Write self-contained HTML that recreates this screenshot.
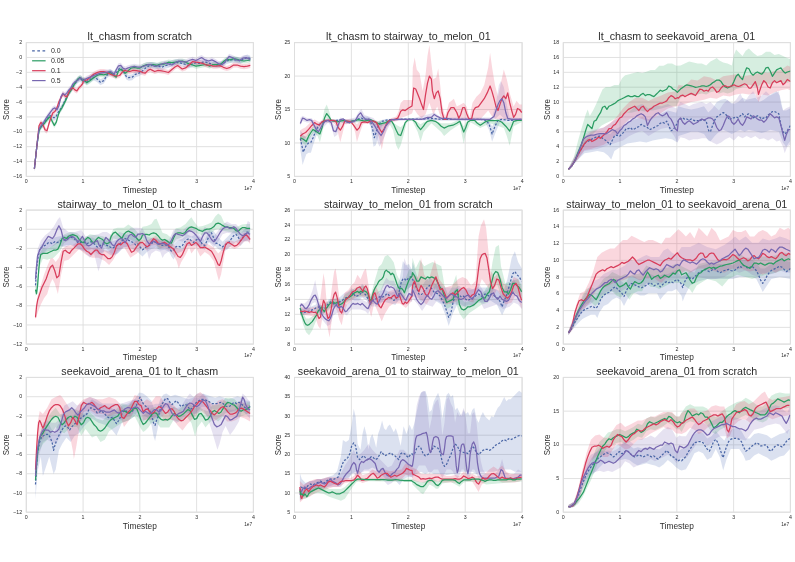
<!DOCTYPE html><html><head><meta charset="utf-8"><style>html,body{margin:0;padding:0;background:#fff;}svg{display:block;filter:blur(0.35px)}text{font-family:"Liberation Sans",sans-serif;fill:#2c2c2c}</style></head><body>
<svg width="795" height="562" viewBox="0 0 795 562">
<rect width="795" height="562" fill="#fff"/>
<line x1="26.3" y1="176.40" x2="253.4" y2="176.40" stroke="#dedede" stroke-width="0.9"/>
<text transform="translate(22.1,178.00) scale(0.88,1)" font-size="6.0" text-anchor="end">−16</text>
<line x1="26.3" y1="161.53" x2="253.4" y2="161.53" stroke="#dedede" stroke-width="0.9"/>
<text transform="translate(22.1,163.13) scale(0.88,1)" font-size="6.0" text-anchor="end">−14</text>
<line x1="26.3" y1="146.67" x2="253.4" y2="146.67" stroke="#dedede" stroke-width="0.9"/>
<text transform="translate(22.1,148.27) scale(0.88,1)" font-size="6.0" text-anchor="end">−12</text>
<line x1="26.3" y1="131.80" x2="253.4" y2="131.80" stroke="#dedede" stroke-width="0.9"/>
<text transform="translate(22.1,133.40) scale(0.88,1)" font-size="6.0" text-anchor="end">−10</text>
<line x1="26.3" y1="116.93" x2="253.4" y2="116.93" stroke="#dedede" stroke-width="0.9"/>
<text transform="translate(22.1,118.53) scale(0.88,1)" font-size="6.0" text-anchor="end">−8</text>
<line x1="26.3" y1="102.07" x2="253.4" y2="102.07" stroke="#dedede" stroke-width="0.9"/>
<text transform="translate(22.1,103.67) scale(0.88,1)" font-size="6.0" text-anchor="end">−6</text>
<line x1="26.3" y1="87.20" x2="253.4" y2="87.20" stroke="#dedede" stroke-width="0.9"/>
<text transform="translate(22.1,88.80) scale(0.88,1)" font-size="6.0" text-anchor="end">−4</text>
<line x1="26.3" y1="72.33" x2="253.4" y2="72.33" stroke="#dedede" stroke-width="0.9"/>
<text transform="translate(22.1,73.93) scale(0.88,1)" font-size="6.0" text-anchor="end">−2</text>
<line x1="26.3" y1="57.47" x2="253.4" y2="57.47" stroke="#dedede" stroke-width="0.9"/>
<text transform="translate(22.1,59.07) scale(0.88,1)" font-size="6.0" text-anchor="end">0</text>
<line x1="26.3" y1="42.60" x2="253.4" y2="42.60" stroke="#dedede" stroke-width="0.9"/>
<text transform="translate(22.1,44.20) scale(0.88,1)" font-size="6.0" text-anchor="end">2</text>
<line x1="26.30" y1="42.6" x2="26.30" y2="176.4" stroke="#dedede" stroke-width="0.9"/>
<text transform="translate(26.30,183.4) scale(0.88,1)" font-size="6.0" text-anchor="middle">0</text>
<line x1="83.08" y1="42.6" x2="83.08" y2="176.4" stroke="#dedede" stroke-width="0.9"/>
<text transform="translate(83.08,183.4) scale(0.88,1)" font-size="6.0" text-anchor="middle">1</text>
<line x1="139.85" y1="42.6" x2="139.85" y2="176.4" stroke="#dedede" stroke-width="0.9"/>
<text transform="translate(139.85,183.4) scale(0.88,1)" font-size="6.0" text-anchor="middle">2</text>
<line x1="196.62" y1="42.6" x2="196.62" y2="176.4" stroke="#dedede" stroke-width="0.9"/>
<text transform="translate(196.62,183.4) scale(0.88,1)" font-size="6.0" text-anchor="middle">3</text>
<line x1="253.40" y1="42.6" x2="253.40" y2="176.4" stroke="#dedede" stroke-width="0.9"/>
<text transform="translate(253.40,183.4) scale(0.88,1)" font-size="6.0" text-anchor="middle">4</text>
<rect x="26.3" y="42.6" width="227.1" height="133.8" fill="none" stroke="#dedede" stroke-width="1"/>
<clipPath id="clip00"><rect x="26.3" y="42.6" width="227.1" height="133.8"/></clipPath>
<g clip-path="url(#clip00)">
<polygon points="34.4,165.7 37.0,141.8 39.0,126.8 41.0,123.8 44.0,119.8 47.0,115.8 49.9,112.4 51.9,113.8 53.9,114.8 55.9,113.8 57.9,109.8 59.9,106.9 61.9,103.9 63.9,99.9 65.9,95.9 67.9,91.3 69.9,88.5 71.9,85.3 73.9,81.9 75.9,79.3 77.9,76.9 79.9,75.9 81.9,76.9 82.8,78.5 83.4,77.6 86.8,78.7 90.2,76.4 93.6,74.2 97.0,75.9 100.4,79.3 103.8,77.6 107.2,71.9 110.6,69.6 114.0,71.3 117.4,68.5 119.6,65.1 121.9,66.8 124.2,69.6 126.4,73.6 128.7,74.7 132.1,74.2 135.5,71.3 138.9,70.2 142.3,67.9 145.7,65.1 149.1,62.8 152.5,62.3 155.8,62.8 159.2,63.4 161.5,64.5 164.9,62.8 168.4,62.0 171.9,60.3 175.3,59.2 178.7,59.7 182.2,60.3 185.6,61.5 189.0,62.6 192.5,60.9 195.9,59.7 199.3,60.3 202.8,59.2 206.2,59.2 209.6,60.3 213.1,61.5 216.5,62.0 219.9,61.5 223.4,60.3 226.8,58.0 230.2,56.9 233.7,56.9 237.1,56.9 240.5,58.0 244.0,55.7 247.4,54.6 250.3,55.7 250.3,61.7 247.4,60.6 244.0,61.7 240.5,64.0 237.1,62.9 233.7,62.9 230.2,62.9 226.8,64.0 223.4,66.3 219.9,67.5 216.5,68.0 213.1,67.5 209.6,66.3 206.2,65.2 202.8,65.2 199.3,66.3 195.9,65.7 192.5,66.9 189.0,68.6 185.6,67.5 182.2,66.3 178.7,65.7 175.3,65.2 171.9,66.3 168.4,68.0 164.9,68.8 161.5,70.5 159.2,69.4 155.8,68.8 152.5,68.3 149.1,68.8 145.7,71.1 142.3,73.9 138.9,76.2 135.5,77.3 132.1,80.2 128.7,80.7 126.4,79.6 124.2,75.6 121.9,72.8 119.6,71.1 117.4,74.5 114.0,77.3 110.6,75.6 107.2,77.9 103.8,83.6 100.4,85.3 97.0,81.9 93.6,80.2 90.2,82.4 86.8,84.7 83.4,83.6 82.8,84.5 81.9,82.9 79.9,81.9 77.9,82.9 75.9,85.3 73.9,87.9 71.9,91.3 69.9,94.5 67.9,97.3 65.9,101.9 63.9,105.9 61.9,109.9 59.9,112.9 57.9,115.8 55.9,119.8 53.9,120.8 51.9,119.8 49.9,118.4 47.0,121.8 44.0,125.8 41.0,129.8 39.0,132.8 37.0,147.8 34.4,171.7" fill="#4a68b4" fill-opacity="0.2"/>
<polygon points="34.4,166.1 37.0,142.2 39.0,128.2 41.0,124.2 44.0,121.2 47.0,117.2 49.9,114.2 51.9,118.2 54.3,122.8 56.3,119.6 58.3,112.2 59.9,108.3 61.9,105.3 63.9,101.3 65.9,97.3 67.9,92.3 69.9,89.3 71.9,86.3 73.9,82.3 75.9,79.3 77.9,76.3 79.9,74.9 81.9,76.3 82.8,78.3 83.4,76.8 86.8,80.2 90.2,78.0 93.6,75.1 97.0,72.9 100.4,71.7 103.8,72.3 107.2,71.2 109.4,69.5 111.7,70.6 114.0,72.9 116.2,74.6 118.5,68.3 120.8,66.6 123.0,68.3 125.3,70.6 127.5,68.9 130.9,65.5 134.3,64.9 137.7,65.5 140.0,65.5 143.4,63.2 146.8,62.1 150.2,62.1 153.6,62.1 157.0,62.7 160.4,61.6 163.8,61.6 168.4,59.6 171.9,60.1 175.3,59.6 178.7,59.0 182.2,58.4 185.6,59.6 189.0,61.3 192.5,62.4 195.9,63.6 199.3,63.0 202.8,62.4 206.2,61.9 209.6,63.6 213.1,61.9 216.5,61.9 219.9,62.4 223.4,59.0 226.8,56.7 230.2,57.3 233.7,56.1 237.1,56.7 240.5,57.9 244.0,58.4 247.4,57.9 250.3,57.3 250.3,62.5 247.4,63.1 244.0,63.6 240.5,63.1 237.1,61.9 233.7,61.3 230.2,62.5 226.8,61.9 223.4,64.2 219.9,67.6 216.5,67.1 213.1,67.1 209.6,68.8 206.2,67.1 202.8,67.6 199.3,68.2 195.9,68.8 192.5,67.6 189.0,66.5 185.6,64.8 182.2,63.6 178.7,64.2 175.3,64.8 171.9,65.3 168.4,64.8 163.8,66.8 160.4,66.8 157.0,67.9 153.6,67.3 150.2,67.3 146.8,67.3 143.4,68.4 140.0,70.7 137.7,70.7 134.3,70.1 130.9,70.7 127.5,74.1 125.3,75.8 123.0,73.5 120.8,71.8 118.5,73.5 116.2,79.8 114.0,78.1 111.7,75.8 109.4,74.7 107.2,76.4 103.8,77.5 100.4,76.9 97.0,78.1 93.6,80.3 90.2,83.2 86.8,85.4 83.4,82.0 82.8,83.5 81.9,81.5 79.9,80.1 77.9,81.5 75.9,84.5 73.9,87.5 71.9,91.5 69.9,94.5 67.9,97.5 65.9,102.5 63.9,106.5 61.9,110.5 59.9,113.5 58.3,117.4 56.3,124.8 54.3,128.0 51.9,123.4 49.9,119.4 47.0,122.4 44.0,126.4 41.0,129.4 39.0,133.4 37.0,147.4 34.4,171.3" fill="#34aa66" fill-opacity="0.2"/>
<polygon points="34.4,166.1 37.0,142.2 39.0,123.2 41.0,119.8 43.0,122.2 45.0,127.2 47.0,128.2 48.9,121.2 50.9,115.2 52.9,110.2 54.9,108.9 56.9,105.3 58.9,99.3 60.9,95.3 62.9,91.3 64.9,93.3 66.9,94.3 68.9,89.3 70.9,86.3 72.9,85.3 74.9,87.3 76.9,88.3 78.9,85.3 80.9,83.3 82.8,80.9 83.4,78.0 86.8,77.4 90.2,74.6 93.6,71.7 97.0,70.0 100.4,68.9 103.8,68.9 107.2,70.0 110.6,71.7 114.0,72.9 117.4,73.4 119.6,72.9 121.9,70.0 124.2,67.8 126.4,68.3 129.8,68.9 133.2,67.8 136.6,68.0 140.0,68.7 142.8,70.0 145.1,70.6 147.9,67.8 150.2,66.6 152.5,67.8 154.7,68.9 158.1,67.8 161.5,68.3 164.9,68.9 168.4,69.9 171.9,67.0 175.3,64.1 177.6,63.0 179.9,64.7 182.2,66.4 185.6,65.3 189.0,62.4 192.5,59.0 195.9,59.6 199.3,60.1 202.8,60.7 206.2,62.4 209.6,62.4 213.1,63.6 216.5,63.6 219.9,63.0 223.4,64.7 226.8,65.9 230.2,64.7 233.7,62.4 237.1,62.4 240.5,63.6 244.0,64.1 247.4,63.6 250.3,62.8 250.3,68.0 247.4,68.8 244.0,69.3 240.5,68.8 237.1,67.6 233.7,67.6 230.2,69.9 226.8,71.1 223.4,69.9 219.9,68.2 216.5,68.8 213.1,68.8 209.6,67.6 206.2,67.6 202.8,65.9 199.3,65.3 195.9,64.8 192.5,64.2 189.0,67.6 185.6,70.5 182.2,71.6 179.9,69.9 177.6,68.2 175.3,69.3 171.9,72.2 168.4,75.1 164.9,74.1 161.5,73.5 158.1,73.0 154.7,74.1 152.5,73.0 150.2,71.8 147.9,73.0 145.1,75.8 142.8,75.2 140.0,73.9 136.6,73.2 133.2,73.0 129.8,74.1 126.4,73.5 124.2,73.0 121.9,75.2 119.6,78.1 117.4,78.6 114.0,78.1 110.6,76.9 107.2,75.2 103.8,74.1 100.4,74.1 97.0,75.2 93.6,76.9 90.2,79.8 86.8,82.6 83.4,83.2 82.8,86.1 80.9,88.5 78.9,90.5 76.9,93.5 74.9,92.5 72.9,90.5 70.9,91.5 68.9,94.5 66.9,99.5 64.9,98.5 62.9,96.5 60.9,100.5 58.9,104.5 56.9,110.5 54.9,114.1 52.9,115.4 50.9,120.4 48.9,126.4 47.0,133.4 45.0,132.4 43.0,127.4 41.0,125.0 39.0,128.4 37.0,147.4 34.4,171.3" fill="#e6385c" fill-opacity="0.2"/>
<polygon points="34.4,166.1 37.0,142.2 39.0,126.2 41.0,123.2 44.0,119.2 47.0,114.2 49.9,110.2 52.9,106.3 54.9,105.3 56.9,107.3 58.9,103.3 60.9,94.3 62.9,90.9 64.9,92.3 66.9,90.3 68.9,87.3 70.9,85.3 72.9,81.3 74.9,79.3 76.9,78.3 78.9,76.3 80.9,75.3 82.8,77.3 83.4,78.0 86.8,75.7 90.2,74.6 93.6,72.9 97.0,71.7 100.4,70.6 103.8,70.0 107.2,69.5 110.6,68.9 114.0,71.7 116.2,67.2 118.5,63.2 120.8,62.7 123.0,65.5 125.3,66.6 127.5,65.5 130.9,64.4 134.3,63.8 137.7,64.4 141.1,64.4 144.5,63.2 147.9,62.1 151.3,62.1 154.7,63.8 158.1,63.2 161.5,61.6 164.9,60.4 168.4,61.3 171.9,62.4 175.3,60.1 178.7,58.4 182.2,59.0 185.6,59.6 189.0,57.9 192.5,56.7 195.9,57.9 199.3,56.1 201.6,55.0 205.1,57.3 208.5,58.4 211.9,57.3 215.4,59.0 218.8,61.3 222.2,61.9 225.7,58.4 229.1,53.8 232.5,55.0 236.0,57.3 239.4,57.9 242.8,55.6 246.3,55.0 250.3,56.7 250.3,61.9 246.3,60.2 242.8,60.8 239.4,63.1 236.0,62.5 232.5,60.2 229.1,59.0 225.7,63.6 222.2,67.1 218.8,66.5 215.4,64.2 211.9,62.5 208.5,63.6 205.1,62.5 201.6,60.2 199.3,61.3 195.9,63.1 192.5,61.9 189.0,63.1 185.6,64.8 182.2,64.2 178.7,63.6 175.3,65.3 171.9,67.6 168.4,66.5 164.9,65.6 161.5,66.8 158.1,68.4 154.7,69.0 151.3,67.3 147.9,67.3 144.5,68.4 141.1,69.6 137.7,69.6 134.3,69.0 130.9,69.6 127.5,70.7 125.3,71.8 123.0,70.7 120.8,67.9 118.5,68.4 116.2,72.4 114.0,76.9 110.6,74.1 107.2,74.7 103.8,75.2 100.4,75.8 97.0,76.9 93.6,78.1 90.2,79.8 86.8,80.9 83.4,83.2 82.8,82.5 80.9,80.5 78.9,81.5 76.9,83.5 74.9,84.5 72.9,86.5 70.9,90.5 68.9,92.5 66.9,95.5 64.9,97.5 62.9,96.1 60.9,99.5 58.9,108.5 56.9,112.5 54.9,110.5 52.9,111.5 49.9,115.4 47.0,119.4 44.0,124.4 41.0,128.4 39.0,131.4 37.0,147.4 34.4,171.3" fill="#8070b8" fill-opacity="0.2"/>
<polyline points="34.4,168.7 37.0,144.8 39.0,129.8 41.0,126.8 44.0,122.8 47.0,118.8 49.9,115.4 51.9,116.8 53.9,117.8 55.9,116.8 57.9,112.8 59.9,109.9 61.9,106.9 63.9,102.9 65.9,98.9 67.9,94.3 69.9,91.5 71.9,88.3 73.9,84.9 75.9,82.3 77.9,79.9 79.9,78.9 81.9,79.9 82.8,81.5 83.4,80.6 86.8,81.7 90.2,79.4 93.6,77.2 97.0,78.9 100.4,82.3 103.8,80.6 107.2,74.9 110.6,72.6 114.0,74.3 117.4,71.5 119.6,68.1 121.9,69.8 124.2,72.6 126.4,76.6 128.7,77.7 132.1,77.2 135.5,74.3 138.9,73.2 142.3,70.9 145.7,68.1 149.1,65.8 152.5,65.3 155.8,65.8 159.2,66.4 161.5,67.5 164.9,65.8 168.4,65.0 171.9,63.3 175.3,62.2 178.7,62.7 182.2,63.3 185.6,64.5 189.0,65.6 192.5,63.9 195.9,62.7 199.3,63.3 202.8,62.2 206.2,62.2 209.6,63.3 213.1,64.5 216.5,65.0 219.9,64.5 223.4,63.3 226.8,61.0 230.2,59.9 233.7,59.9 237.1,59.9 240.5,61.0 244.0,58.7 247.4,57.6 250.3,58.7" fill="none" stroke="#4a66a6" stroke-width="1.25" stroke-linejoin="round" stroke-dasharray="2.2,1.6"/>
<polyline points="34.4,168.7 37.0,144.8 39.0,130.8 41.0,126.8 44.0,123.8 47.0,119.8 49.9,116.8 51.9,120.8 54.3,125.4 56.3,122.2 58.3,114.8 59.9,110.9 61.9,107.9 63.9,103.9 65.9,99.9 67.9,94.9 69.9,91.9 71.9,88.9 73.9,84.9 75.9,81.9 77.9,78.9 79.9,77.5 81.9,78.9 82.8,80.9 83.4,79.4 86.8,82.8 90.2,80.6 93.6,77.7 97.0,75.5 100.4,74.3 103.8,74.9 107.2,73.8 109.4,72.1 111.7,73.2 114.0,75.5 116.2,77.2 118.5,70.9 120.8,69.2 123.0,70.9 125.3,73.2 127.5,71.5 130.9,68.1 134.3,67.5 137.7,68.1 140.0,68.1 143.4,65.8 146.8,64.7 150.2,64.7 153.6,64.7 157.0,65.3 160.4,64.2 163.8,64.2 168.4,62.2 171.9,62.7 175.3,62.2 178.7,61.6 182.2,61.0 185.6,62.2 189.0,63.9 192.5,65.0 195.9,66.2 199.3,65.6 202.8,65.0 206.2,64.5 209.6,66.2 213.1,64.5 216.5,64.5 219.9,65.0 223.4,61.6 226.8,59.3 230.2,59.9 233.7,58.7 237.1,59.3 240.5,60.5 244.0,61.0 247.4,60.5 250.3,59.9" fill="none" stroke="#2a9c62" stroke-width="1.25" stroke-linejoin="round"/>
<polyline points="34.4,168.7 37.0,144.8 39.0,125.8 41.0,122.4 43.0,124.8 45.0,129.8 47.0,130.8 48.9,123.8 50.9,117.8 52.9,112.8 54.9,111.5 56.9,107.9 58.9,101.9 60.9,97.9 62.9,93.9 64.9,95.9 66.9,96.9 68.9,91.9 70.9,88.9 72.9,87.9 74.9,89.9 76.9,90.9 78.9,87.9 80.9,85.9 82.8,83.5 83.4,80.6 86.8,80.0 90.2,77.2 93.6,74.3 97.0,72.6 100.4,71.5 103.8,71.5 107.2,72.6 110.6,74.3 114.0,75.5 117.4,76.0 119.6,75.5 121.9,72.6 124.2,70.4 126.4,70.9 129.8,71.5 133.2,70.4 136.6,70.6 140.0,71.3 142.8,72.6 145.1,73.2 147.9,70.4 150.2,69.2 152.5,70.4 154.7,71.5 158.1,70.4 161.5,70.9 164.9,71.5 168.4,72.5 171.9,69.6 175.3,66.7 177.6,65.6 179.9,67.3 182.2,69.0 185.6,67.9 189.0,65.0 192.5,61.6 195.9,62.2 199.3,62.7 202.8,63.3 206.2,65.0 209.6,65.0 213.1,66.2 216.5,66.2 219.9,65.6 223.4,67.3 226.8,68.5 230.2,67.3 233.7,65.0 237.1,65.0 240.5,66.2 244.0,66.7 247.4,66.2 250.3,65.4" fill="none" stroke="#d83c5a" stroke-width="1.25" stroke-linejoin="round"/>
<polyline points="34.4,168.7 37.0,144.8 39.0,128.8 41.0,125.8 44.0,121.8 47.0,116.8 49.9,112.8 52.9,108.9 54.9,107.9 56.9,109.9 58.9,105.9 60.9,96.9 62.9,93.5 64.9,94.9 66.9,92.9 68.9,89.9 70.9,87.9 72.9,83.9 74.9,81.9 76.9,80.9 78.9,78.9 80.9,77.9 82.8,79.9 83.4,80.6 86.8,78.3 90.2,77.2 93.6,75.5 97.0,74.3 100.4,73.2 103.8,72.6 107.2,72.1 110.6,71.5 114.0,74.3 116.2,69.8 118.5,65.8 120.8,65.3 123.0,68.1 125.3,69.2 127.5,68.1 130.9,67.0 134.3,66.4 137.7,67.0 141.1,67.0 144.5,65.8 147.9,64.7 151.3,64.7 154.7,66.4 158.1,65.8 161.5,64.2 164.9,63.0 168.4,63.9 171.9,65.0 175.3,62.7 178.7,61.0 182.2,61.6 185.6,62.2 189.0,60.5 192.5,59.3 195.9,60.5 199.3,58.7 201.6,57.6 205.1,59.9 208.5,61.0 211.9,59.9 215.4,61.6 218.8,63.9 222.2,64.5 225.7,61.0 229.1,56.4 232.5,57.6 236.0,59.9 239.4,60.5 242.8,58.2 246.3,57.6 250.3,59.3" fill="none" stroke="#7767b0" stroke-width="1.25" stroke-linejoin="round"/>
</g>
<text x="139.8" y="40.0" font-size="10.7" text-anchor="middle">lt_chasm from scratch</text>
<text x="139.8" y="192.7" font-size="8.2" text-anchor="middle" textLength="34" lengthAdjust="spacingAndGlyphs">Timestep</text>
<text x="252.2" y="189.7" font-size="4.8" text-anchor="end">1e7</text>
<text transform="translate(8.5,109.5) rotate(-90)" font-size="8.2" text-anchor="middle" textLength="20.8" lengthAdjust="spacingAndGlyphs">Score</text>
<line x1="294.5" y1="176.40" x2="522.1" y2="176.40" stroke="#dedede" stroke-width="0.9"/>
<text transform="translate(290.3,178.00) scale(0.88,1)" font-size="6.0" text-anchor="end">5</text>
<line x1="294.5" y1="142.95" x2="522.1" y2="142.95" stroke="#dedede" stroke-width="0.9"/>
<text transform="translate(290.3,144.55) scale(0.88,1)" font-size="6.0" text-anchor="end">10</text>
<line x1="294.5" y1="109.50" x2="522.1" y2="109.50" stroke="#dedede" stroke-width="0.9"/>
<text transform="translate(290.3,111.10) scale(0.88,1)" font-size="6.0" text-anchor="end">15</text>
<line x1="294.5" y1="76.05" x2="522.1" y2="76.05" stroke="#dedede" stroke-width="0.9"/>
<text transform="translate(290.3,77.65) scale(0.88,1)" font-size="6.0" text-anchor="end">20</text>
<line x1="294.5" y1="42.60" x2="522.1" y2="42.60" stroke="#dedede" stroke-width="0.9"/>
<text transform="translate(290.3,44.20) scale(0.88,1)" font-size="6.0" text-anchor="end">25</text>
<line x1="294.50" y1="42.6" x2="294.50" y2="176.4" stroke="#dedede" stroke-width="0.9"/>
<text transform="translate(294.50,183.4) scale(0.88,1)" font-size="6.0" text-anchor="middle">0</text>
<line x1="351.40" y1="42.6" x2="351.40" y2="176.4" stroke="#dedede" stroke-width="0.9"/>
<text transform="translate(351.40,183.4) scale(0.88,1)" font-size="6.0" text-anchor="middle">1</text>
<line x1="408.30" y1="42.6" x2="408.30" y2="176.4" stroke="#dedede" stroke-width="0.9"/>
<text transform="translate(408.30,183.4) scale(0.88,1)" font-size="6.0" text-anchor="middle">2</text>
<line x1="465.20" y1="42.6" x2="465.20" y2="176.4" stroke="#dedede" stroke-width="0.9"/>
<text transform="translate(465.20,183.4) scale(0.88,1)" font-size="6.0" text-anchor="middle">3</text>
<line x1="522.10" y1="42.6" x2="522.10" y2="176.4" stroke="#dedede" stroke-width="0.9"/>
<text transform="translate(522.10,183.4) scale(0.88,1)" font-size="6.0" text-anchor="middle">4</text>
<rect x="294.5" y="42.6" width="227.6" height="133.8" fill="none" stroke="#dedede" stroke-width="1"/>
<clipPath id="clip01"><rect x="294.5" y="42.6" width="227.6" height="133.8"/></clipPath>
<g clip-path="url(#clip01)">
<polygon points="300.3,130.2 303.3,134.7 306.3,137.7 310.1,136.2 314.6,128.7 319.2,122.6 325.2,119.6 331.2,119.6 337.3,119.3 343.3,118.9 349.4,120.4 355.4,119.3 361.4,115.1 364.5,116.6 367.5,116.6 370.5,118.1 373.5,124.2 376.5,124.2 379.5,120.4 385.6,118.9 397.7,118.4 412.0,118.4 484.2,118.3 489.1,121.3 492.1,126.2 495.0,122.2 499.9,118.3 521.8,118.3 521.8,120.7 499.9,122.2 495.0,134.0 492.1,141.8 489.1,130.1 484.2,120.7 412.0,119.9 397.7,120.2 388.6,121.1 382.6,124.2 378.8,134.7 375.8,145.3 373.5,146.8 370.5,125.7 367.5,121.1 361.4,121.1 355.4,121.9 349.4,123.4 343.3,121.1 337.3,121.9 331.2,122.6 325.2,122.6 319.2,127.2 316.2,136.2 313.1,145.3 310.9,152.8 308.6,152.8 306.3,154.3 304.1,160.4 302.6,164.9 300.3,149.8" fill="#4a68b4" fill-opacity="0.2"/>
<polygon points="300.3,134.7 303.3,136.2 306.3,136.2 308.6,132.5 310.9,128.7 313.1,126.4 316.2,127.2 319.9,128.7 322.2,121.1 324.5,109.1 326.7,104.5 329.0,110.6 331.2,118.9 337.3,120.4 352.4,119.6 367.5,118.9 376.5,121.1 382.6,121.1 388.6,119.9 393.1,122.6 397.7,125.7 400.7,127.2 403.7,124.2 406.7,118.9 412.0,118.7 417.7,122.2 420.6,124.2 423.5,122.2 431.4,119.3 441.2,123.2 451.0,123.2 459.8,119.3 463.7,126.2 467.6,120.3 480.3,122.2 490.1,119.3 505.8,122.2 509.7,122.2 521.8,119.3 521.8,121.9 513.6,126.2 509.7,145.7 506.8,136.0 503.8,128.1 490.1,123.2 480.3,128.1 470.5,122.2 465.6,134.0 463.7,143.8 461.7,134.0 459.8,124.2 451.0,130.1 444.1,136.0 441.2,132.0 431.4,123.2 423.5,132.0 420.6,141.8 417.7,132.0 412.0,119.9 406.7,122.6 403.7,134.7 400.7,145.3 398.4,149.8 396.2,145.3 393.1,130.2 388.6,122.6 382.6,125.7 376.5,124.9 367.5,121.9 352.4,122.6 337.3,122.6 331.2,121.9 329.0,121.1 326.7,118.1 324.5,122.6 322.2,133.2 319.9,142.3 317.7,136.2 313.9,132.5 310.9,136.2 308.6,140.8 306.3,145.3 303.3,143.8 300.3,140.8" fill="#34aa66" fill-opacity="0.2"/>
<polygon points="300.3,130.2 302.6,128.7 305.6,127.2 308.6,124.2 311.6,121.1 314.6,119.6 319.2,121.9 323.7,118.9 329.7,118.9 335.8,119.6 338.8,122.6 341.8,122.6 344.8,118.9 352.4,119.6 356.9,124.2 361.4,119.6 370.5,119.6 376.5,120.4 380.3,124.2 382.6,124.2 387.1,121.1 391.6,118.1 396.2,116.6 398.4,112.1 400.7,103.0 403.7,100.0 412.0,100.0 412.8,67.4 414.7,57.6 416.7,69.4 419.6,73.3 422.6,90.9 425.5,75.2 427.5,55.7 429.4,44.9 431.4,63.5 433.3,79.2 436.3,77.2 438.2,68.4 440.2,85.0 442.1,104.6 445.1,116.4 449.0,102.7 453.9,98.7 456.8,106.6 460.7,104.6 463.7,102.7 466.6,106.6 469.6,117.4 472.5,102.7 476.4,96.8 480.3,92.9 484.2,85.0 488.2,67.4 490.1,52.7 492.1,67.4 495.0,85.0 498.0,96.8 500.9,83.1 503.8,69.4 506.8,79.2 509.7,92.9 513.6,106.6 516.6,100.7 519.5,104.6 521.8,104.6 521.8,119.3 496.0,119.3 492.1,116.4 488.2,110.5 480.3,119.3 460.7,119.3 441.2,119.3 437.2,106.6 433.3,114.4 429.4,102.7 425.5,114.4 421.6,118.3 417.7,114.4 413.7,108.5 412.0,113.6 405.2,116.6 400.7,118.1 397.7,121.1 391.6,121.9 387.1,127.2 384.1,137.7 381.8,149.8 379.5,139.2 376.5,127.2 370.5,123.4 362.9,124.2 359.2,134.7 356.9,142.3 355.4,133.2 352.4,123.4 344.8,124.2 342.6,133.2 340.3,142.3 338.8,136.2 336.5,125.7 332.8,122.6 325.2,122.6 321.4,126.4 317.7,128.7 314.6,126.4 311.6,130.2 308.6,134.7 305.6,137.7 302.6,140.0 300.3,142.3" fill="#e6385c" fill-opacity="0.2"/>
<polygon points="300.3,118.1 302.6,115.8 307.1,118.1 311.6,118.1 314.6,121.9 318.4,127.2 322.2,121.1 328.2,118.1 331.2,119.6 334.3,125.7 337.3,122.6 340.3,117.4 346.3,119.6 355.4,117.4 359.2,111.3 361.4,109.1 364.5,115.1 369.0,116.6 373.5,118.1 378.0,124.2 382.6,124.2 387.1,121.1 391.6,118.4 412.0,118.4 427.5,114.4 434.3,112.5 441.2,117.4 492.1,117.4 496.0,102.7 498.9,85.0 500.9,81.1 503.8,87.0 506.8,104.6 509.7,117.4 521.8,117.9 521.8,120.7 507.7,120.7 503.8,118.3 499.9,114.4 496.0,118.3 492.1,120.7 412.0,120.2 391.6,121.1 387.1,130.2 382.6,140.8 379.5,146.8 376.5,139.2 372.0,127.2 367.5,121.9 361.4,119.6 359.2,117.4 355.4,122.6 346.3,124.2 340.3,122.6 337.3,134.7 334.3,137.0 331.2,126.4 328.2,122.6 322.2,128.7 318.4,135.5 314.6,129.4 311.6,122.6 307.1,122.6 302.6,121.1 300.3,125.7" fill="#8070b8" fill-opacity="0.2"/>
<polyline points="300.3,138.5 301.8,145.3 303.3,152.1 304.8,148.3 306.3,145.3 308.6,143.0 310.9,142.3 313.1,137.7 315.4,131.7 317.7,127.2 319.9,124.2 322.2,121.9 325.2,121.1 328.2,120.4 331.2,121.1 334.3,120.4 337.3,120.4 340.3,119.6 343.3,119.6 346.3,121.1 349.4,121.9 352.4,121.1 355.4,120.4 358.4,118.9 361.4,118.1 364.5,119.6 367.5,118.9 370.5,121.1 372.8,130.2 374.3,137.7 375.8,133.2 378.0,126.4 380.3,122.6 382.6,121.1 385.6,120.4 388.6,119.6 391.6,119.6 397.7,119.3 405.2,119.0 412.0,119.0 421.6,119.3 431.4,118.3 441.2,119.3 451.0,119.3 460.7,119.3 470.5,119.3 480.3,119.3 486.2,120.3 489.1,124.2 492.1,134.0 495.0,126.2 498.0,120.3 501.9,119.3 507.7,120.3 511.7,120.3 521.8,119.3" fill="none" stroke="#4a66a6" stroke-width="1.25" stroke-linejoin="round" stroke-dasharray="2.2,1.6"/>
<polyline points="300.3,137.7 303.3,139.2 306.3,141.5 308.6,136.2 310.9,132.5 313.1,129.4 315.4,130.9 317.7,132.5 319.9,134.0 322.2,127.2 324.5,118.1 326.7,113.6 329.0,116.6 331.2,120.4 334.3,121.1 337.3,121.9 340.3,121.1 344.1,120.4 346.3,121.1 349.4,122.6 352.4,121.1 355.4,120.4 358.4,119.6 361.4,120.4 364.5,121.1 367.5,120.4 370.5,119.6 373.5,121.1 376.5,122.6 379.5,124.2 382.6,123.4 385.6,122.6 388.6,121.1 391.6,121.1 393.9,124.9 396.2,130.2 398.4,134.7 400.7,135.5 402.9,129.4 405.2,122.6 408.2,119.6 412.0,119.3 415.7,122.2 417.7,126.2 420.6,129.7 423.5,126.2 425.5,123.2 427.5,121.3 431.4,120.3 435.3,121.3 438.2,123.2 441.2,126.2 444.1,128.1 448.0,126.2 452.9,125.2 456.8,123.2 459.8,121.3 461.7,126.2 463.7,132.0 465.6,128.1 467.6,122.2 470.5,120.3 474.5,120.3 477.4,123.2 480.3,125.2 483.3,123.2 486.2,121.3 490.1,120.3 494.0,120.7 498.0,120.3 501.9,122.2 505.8,126.2 509.7,131.1 511.7,126.2 513.6,121.3 517.5,120.3 521.8,120.3" fill="none" stroke="#2a9c62" stroke-width="1.25" stroke-linejoin="round"/>
<polyline points="300.3,136.2 302.6,134.0 305.6,132.5 308.6,129.4 311.6,125.7 314.6,122.6 316.9,124.2 319.2,124.9 321.4,122.6 323.7,121.1 326.7,120.4 329.7,120.4 332.8,120.4 335.8,121.1 338.0,127.2 340.3,130.2 342.6,126.4 344.8,121.1 347.8,121.1 350.9,121.9 353.9,125.7 356.9,130.2 359.2,127.9 361.4,122.6 364.5,121.9 367.5,122.6 370.5,121.1 373.5,121.1 376.5,122.6 379.5,128.7 381.8,132.5 384.1,128.7 386.3,124.2 388.6,121.1 391.6,119.6 394.6,119.6 397.7,118.1 399.2,115.1 400.7,111.3 402.9,109.8 405.2,110.6 408.2,108.3 412.0,106.0 413.7,88.0 415.7,89.0 417.7,93.9 419.6,98.7 421.6,104.6 423.5,109.5 425.5,94.8 427.5,83.1 429.4,76.2 431.4,79.2 432.4,90.9 434.3,98.7 436.3,92.9 438.2,90.9 440.2,98.7 442.1,112.5 444.1,119.3 446.1,119.3 448.0,112.5 451.0,107.6 453.9,107.6 456.8,112.5 458.8,118.3 460.7,114.4 462.7,107.6 464.7,107.6 466.6,113.4 468.6,118.3 471.5,119.3 473.5,110.5 475.4,107.6 478.4,106.6 481.3,102.7 484.2,98.7 487.2,92.9 490.1,86.0 492.1,91.9 494.0,98.7 496.0,106.6 498.0,110.5 499.9,104.6 501.9,98.7 503.8,95.8 505.8,98.7 507.7,92.9 509.7,102.7 511.7,110.5 513.6,117.4 515.6,114.4 517.5,108.5 519.5,109.5 521.8,112.5" fill="none" stroke="#d83c5a" stroke-width="1.25" stroke-linejoin="round"/>
<polyline points="300.3,123.4 302.6,118.1 304.8,118.9 307.1,120.4 309.4,119.6 311.6,120.4 313.9,124.9 316.2,129.4 318.4,131.7 320.7,127.9 322.9,124.2 325.2,121.1 328.2,120.4 331.2,122.6 333.5,130.9 335.8,131.7 338.0,125.7 340.3,119.6 343.3,118.9 346.3,121.9 349.4,122.6 352.4,121.9 355.4,120.4 358.4,115.1 360.7,112.8 362.9,116.6 366.0,119.6 369.0,118.9 372.0,121.9 375.0,126.4 378.0,131.7 381.1,135.5 383.3,131.7 385.6,126.4 388.6,122.6 391.6,119.6 394.6,119.6 397.7,119.3 400.7,119.3 405.2,119.3 412.0,119.3 421.6,119.3 427.5,117.4 431.4,117.4 434.3,114.4 437.2,116.4 441.2,118.3 447.0,118.3 452.9,119.3 460.7,119.3 470.5,119.3 480.3,119.3 490.1,119.3 494.0,116.4 496.0,110.5 498.0,104.6 499.9,100.7 501.9,98.7 503.8,102.7 505.8,112.5 507.7,118.3 511.7,119.3 521.8,119.3" fill="none" stroke="#7767b0" stroke-width="1.25" stroke-linejoin="round"/>
</g>
<text x="408.3" y="40.0" font-size="10.7" text-anchor="middle">lt_chasm to stairway_to_melon_01</text>
<text x="408.3" y="192.7" font-size="8.2" text-anchor="middle" textLength="34" lengthAdjust="spacingAndGlyphs">Timestep</text>
<text x="520.9" y="189.7" font-size="4.8" text-anchor="end">1e7</text>
<text transform="translate(281.2,109.5) rotate(-90)" font-size="8.2" text-anchor="middle" textLength="20.8" lengthAdjust="spacingAndGlyphs">Score</text>
<line x1="563.3" y1="176.40" x2="790.4" y2="176.40" stroke="#dedede" stroke-width="0.9"/>
<text transform="translate(559.1,178.00) scale(0.88,1)" font-size="6.0" text-anchor="end">0</text>
<line x1="563.3" y1="161.53" x2="790.4" y2="161.53" stroke="#dedede" stroke-width="0.9"/>
<text transform="translate(559.1,163.13) scale(0.88,1)" font-size="6.0" text-anchor="end">2</text>
<line x1="563.3" y1="146.67" x2="790.4" y2="146.67" stroke="#dedede" stroke-width="0.9"/>
<text transform="translate(559.1,148.27) scale(0.88,1)" font-size="6.0" text-anchor="end">4</text>
<line x1="563.3" y1="131.80" x2="790.4" y2="131.80" stroke="#dedede" stroke-width="0.9"/>
<text transform="translate(559.1,133.40) scale(0.88,1)" font-size="6.0" text-anchor="end">6</text>
<line x1="563.3" y1="116.93" x2="790.4" y2="116.93" stroke="#dedede" stroke-width="0.9"/>
<text transform="translate(559.1,118.53) scale(0.88,1)" font-size="6.0" text-anchor="end">8</text>
<line x1="563.3" y1="102.07" x2="790.4" y2="102.07" stroke="#dedede" stroke-width="0.9"/>
<text transform="translate(559.1,103.67) scale(0.88,1)" font-size="6.0" text-anchor="end">10</text>
<line x1="563.3" y1="87.20" x2="790.4" y2="87.20" stroke="#dedede" stroke-width="0.9"/>
<text transform="translate(559.1,88.80) scale(0.88,1)" font-size="6.0" text-anchor="end">12</text>
<line x1="563.3" y1="72.33" x2="790.4" y2="72.33" stroke="#dedede" stroke-width="0.9"/>
<text transform="translate(559.1,73.93) scale(0.88,1)" font-size="6.0" text-anchor="end">14</text>
<line x1="563.3" y1="57.47" x2="790.4" y2="57.47" stroke="#dedede" stroke-width="0.9"/>
<text transform="translate(559.1,59.07) scale(0.88,1)" font-size="6.0" text-anchor="end">16</text>
<line x1="563.3" y1="42.60" x2="790.4" y2="42.60" stroke="#dedede" stroke-width="0.9"/>
<text transform="translate(559.1,44.20) scale(0.88,1)" font-size="6.0" text-anchor="end">18</text>
<line x1="563.30" y1="42.6" x2="563.30" y2="176.4" stroke="#dedede" stroke-width="0.9"/>
<text transform="translate(563.30,183.4) scale(0.88,1)" font-size="6.0" text-anchor="middle">0</text>
<line x1="620.07" y1="42.6" x2="620.07" y2="176.4" stroke="#dedede" stroke-width="0.9"/>
<text transform="translate(620.07,183.4) scale(0.88,1)" font-size="6.0" text-anchor="middle">1</text>
<line x1="676.85" y1="42.6" x2="676.85" y2="176.4" stroke="#dedede" stroke-width="0.9"/>
<text transform="translate(676.85,183.4) scale(0.88,1)" font-size="6.0" text-anchor="middle">2</text>
<line x1="733.62" y1="42.6" x2="733.62" y2="176.4" stroke="#dedede" stroke-width="0.9"/>
<text transform="translate(733.62,183.4) scale(0.88,1)" font-size="6.0" text-anchor="middle">3</text>
<line x1="790.40" y1="42.6" x2="790.40" y2="176.4" stroke="#dedede" stroke-width="0.9"/>
<text transform="translate(790.40,183.4) scale(0.88,1)" font-size="6.0" text-anchor="middle">4</text>
<rect x="563.3" y="42.6" width="227.1" height="133.8" fill="none" stroke="#dedede" stroke-width="1"/>
<clipPath id="clip02"><rect x="563.3" y="42.6" width="227.1" height="133.8"/></clipPath>
<g clip-path="url(#clip02)">
<polygon points="568.5,168.2 578.1,152.2 584.5,140.4 590.9,136.1 597.3,134.0 603.7,132.9 610.1,134.0 616.5,128.7 622.9,125.5 629.3,121.2 635.7,119.1 642.1,116.9 648.5,119.1 655.0,116.9 661.4,113.7 667.8,110.5 676.3,112.7 678.4,106.2 684.8,108.3 691.2,109.4 697.6,108.3 704.0,106.2 708.3,112.6 712.6,108.3 716.8,101.9 721.1,99.8 725.4,98.7 729.7,101.9 733.9,104.1 738.2,101.9 742.5,97.7 746.7,99.8 751.0,98.7 755.3,97.7 759.5,101.9 763.8,99.8 768.1,96.6 772.4,93.4 776.6,91.2 779.8,95.5 783.0,110.5 786.2,110.5 790.5,108.3 790.5,140.4 786.2,146.8 783.0,142.5 778.8,131.8 774.5,130.7 770.2,129.7 766.0,131.8 761.7,132.9 757.4,131.8 753.1,130.7 748.9,129.7 744.6,131.8 740.3,129.7 736.1,131.8 731.8,134.0 727.5,131.8 723.2,129.7 719.0,131.8 714.7,136.1 710.4,141.4 708.3,140.4 704.0,134.0 697.6,131.8 691.2,131.8 684.8,134.0 678.4,136.1 677.4,142.5 672.0,139.3 665.6,138.3 659.2,139.3 652.8,140.4 646.4,142.5 640.0,141.5 633.6,142.5 627.2,143.6 620.8,146.8 614.4,151.1 611.2,159.6 608.0,155.4 603.7,152.2 597.3,151.1 590.9,152.2 584.5,153.2 578.1,159.6 568.5,170.3" fill="#4a68b4" fill-opacity="0.2"/>
<polygon points="568.5,168.2 573.8,157.5 578.1,140.4 582.4,125.5 585.6,114.8 587.7,109.4 589.8,115.9 593.0,110.5 596.2,104.1 599.4,96.6 602.6,89.2 605.8,87.0 610.1,87.0 614.4,84.9 618.7,84.9 621.9,78.5 625.1,75.3 629.3,74.2 633.6,73.1 637.9,72.1 642.1,73.1 646.4,71.7 650.7,69.9 655.0,69.9 659.2,65.7 663.5,65.7 667.8,63.5 672.0,63.5 676.3,65.7 680.5,65.6 684.8,63.5 689.1,61.4 693.4,62.4 697.6,63.5 701.9,63.5 706.2,65.6 710.4,61.4 714.7,59.2 716.8,58.1 719.0,60.3 723.2,62.4 727.5,63.5 731.8,65.6 733.9,54.9 736.1,49.6 738.2,51.7 742.5,56.0 745.7,50.7 748.9,48.5 753.1,52.8 757.4,56.0 761.7,54.9 766.0,51.7 770.2,51.7 774.5,54.9 778.8,53.9 783.0,56.0 787.3,58.1 790.5,59.2 790.5,81.6 787.3,82.7 783.0,82.7 778.8,81.6 774.5,82.7 770.2,84.8 766.0,82.7 761.7,83.8 757.4,87.0 753.1,85.9 748.9,84.8 744.6,85.9 740.3,88.0 736.1,89.1 731.8,92.3 727.5,93.4 723.2,92.3 719.0,93.4 714.7,91.2 710.4,92.3 706.2,94.4 701.9,93.4 697.6,94.4 693.4,95.5 689.1,94.4 684.8,95.5 680.5,97.7 676.3,106.2 669.9,106.2 665.6,107.3 661.4,108.4 657.1,109.4 652.8,110.5 648.5,110.5 644.3,111.6 640.0,110.5 635.7,111.6 631.5,112.7 627.2,112.7 622.9,114.8 618.7,116.9 614.4,119.1 610.1,121.2 605.8,123.3 601.6,125.5 597.3,129.7 593.0,134.0 588.8,138.3 585.6,142.5 582.4,149.0 578.1,157.5 573.8,163.9 568.5,170.3" fill="#34aa66" fill-opacity="0.2"/>
<polygon points="568.5,168.2 578.1,151.1 584.5,137.2 590.9,131.9 597.3,129.7 603.7,127.6 610.1,123.3 616.5,116.9 622.9,108.4 629.3,102.0 635.7,97.7 642.1,97.7 648.5,100.9 655.0,97.7 661.4,95.6 667.8,92.4 676.3,91.3 678.4,84.8 684.8,85.9 691.2,79.5 697.6,80.6 704.0,76.3 710.4,77.4 716.8,80.6 723.2,76.3 729.7,75.2 736.1,74.2 742.5,76.3 748.9,75.2 755.3,74.2 761.7,72.0 768.1,73.1 774.5,71.0 780.9,69.9 787.3,65.6 790.5,66.7 790.5,90.2 787.3,89.1 780.9,90.2 774.5,92.3 768.1,95.5 761.7,94.4 758.5,101.9 755.3,93.4 748.9,94.4 742.5,93.4 736.1,94.4 729.7,96.6 723.2,95.5 716.8,98.7 710.4,97.7 704.0,99.8 697.6,100.9 691.2,101.9 684.8,104.1 678.4,106.2 676.3,106.2 667.8,108.4 661.4,112.7 655.0,116.9 648.5,121.2 642.1,119.1 635.7,116.9 629.3,119.1 622.9,125.5 616.5,134.0 610.1,140.4 603.7,144.7 597.3,146.8 590.9,149.0 584.5,150.0 578.1,158.6 568.5,170.3" fill="#e6385c" fill-opacity="0.2"/>
<polygon points="568.5,168.2 578.1,149.0 584.5,134.0 590.9,130.8 597.3,128.7 603.7,127.6 610.1,123.3 616.5,119.1 622.9,114.8 629.3,111.6 635.7,106.2 642.1,104.1 648.5,108.4 655.0,105.2 661.4,106.2 667.8,104.1 676.3,108.4 680.5,101.9 684.8,104.1 689.1,106.2 693.4,104.1 697.6,103.0 701.9,101.9 706.2,104.1 710.4,101.9 714.7,106.2 719.0,110.5 723.2,104.1 727.5,99.8 731.8,104.1 736.1,99.8 740.3,93.4 744.6,101.9 748.9,95.5 753.1,91.2 757.4,97.7 761.7,95.5 766.0,91.2 770.2,95.5 774.5,93.4 778.8,91.2 780.9,104.1 783.0,110.5 786.2,108.3 790.5,106.2 790.5,144.6 787.3,146.8 784.7,153.2 783.0,146.8 779.8,140.4 776.6,141.4 772.4,138.2 768.1,140.4 763.8,138.2 759.5,139.3 755.3,136.1 751.0,138.2 746.7,136.1 742.5,138.2 738.2,136.1 733.9,140.4 729.7,137.2 725.4,139.3 721.1,142.5 716.8,144.6 712.6,142.5 709.4,140.4 706.2,138.2 701.9,138.2 697.6,139.3 693.4,139.3 689.1,140.4 684.8,138.2 680.5,137.2 677.4,142.5 674.2,136.1 667.8,127.6 661.4,128.7 655.0,131.9 648.5,136.1 642.1,130.8 635.7,132.9 629.3,136.1 622.9,140.4 616.5,142.5 610.1,144.7 603.7,146.8 597.3,149.0 590.9,150.0 584.5,151.1 578.1,159.6 568.5,170.3" fill="#8070b8" fill-opacity="0.2"/>
<polyline points="568.5,169.2 571.7,166.0 574.9,160.7 578.1,154.3 581.3,149.0 583.4,145.7 585.6,142.5 587.7,141.5 589.8,140.4 593.0,138.3 596.2,137.2 599.4,136.1 602.6,138.3 605.8,140.4 608.0,142.5 610.1,144.7 612.2,140.4 614.4,136.1 616.5,135.1 619.7,136.1 621.9,134.0 624.0,131.9 626.1,128.7 628.3,128.7 630.4,127.6 632.5,129.7 634.7,128.7 636.8,127.6 638.9,126.5 641.1,124.4 643.2,125.5 645.3,126.5 647.5,127.6 649.6,129.7 651.7,128.7 653.9,127.6 656.0,126.5 658.2,125.5 660.3,123.3 662.4,122.3 664.6,123.3 666.7,121.2 668.8,125.5 671.0,130.8 673.1,129.7 675.2,126.5 677.4,123.3 678.4,120.1 680.5,119.0 682.7,117.9 684.8,119.4 686.9,119.0 689.1,120.1 691.2,119.0 693.4,120.1 695.5,121.1 697.6,120.7 699.8,121.1 701.9,119.4 704.0,120.1 706.2,121.1 707.2,125.4 708.7,130.7 710.4,131.8 712.6,125.4 714.7,120.1 716.8,116.9 719.0,115.8 721.1,113.7 723.2,112.6 725.4,113.7 727.5,116.9 729.7,120.1 731.8,117.9 733.9,117.9 736.1,116.9 738.2,117.9 740.3,115.8 742.5,113.7 744.6,116.9 746.7,114.7 748.9,113.7 751.0,115.8 753.1,117.9 755.3,116.9 757.4,115.8 759.5,116.9 761.7,119.0 763.8,117.9 766.0,117.9 768.1,114.7 770.2,113.7 772.4,111.5 774.5,111.5 776.6,112.6 778.8,113.7 780.9,125.4 783.0,131.8 785.2,134.0 787.3,130.7 790.5,125.4" fill="none" stroke="#4a66a6" stroke-width="1.25" stroke-linejoin="round" stroke-dasharray="2.2,1.6"/>
<polyline points="568.5,169.2 571.7,166.0 574.9,160.7 578.1,152.2 581.3,144.7 583.4,138.3 585.6,130.8 587.7,124.4 589.8,126.5 592.0,128.7 594.1,121.2 596.2,120.1 598.4,115.9 600.5,112.7 602.6,107.3 604.8,106.2 606.9,109.4 609.0,106.2 611.2,105.2 613.3,104.1 615.4,103.0 617.6,100.9 619.7,99.8 621.9,98.8 624.0,97.7 626.1,96.6 628.3,95.6 630.4,96.6 632.5,96.6 634.7,95.6 636.8,96.6 638.9,96.6 641.1,94.5 643.2,93.4 645.3,95.6 647.5,94.5 649.6,94.5 651.7,95.6 653.9,96.6 656.0,94.5 658.2,92.4 660.3,90.2 662.4,91.3 664.6,90.2 666.7,89.2 668.8,86.0 671.0,87.0 673.1,89.2 675.2,90.2 677.4,92.4 678.4,91.2 680.5,89.1 682.7,87.4 684.8,85.9 686.9,84.8 689.1,85.3 691.2,85.9 693.4,86.5 695.5,87.4 697.6,87.0 699.8,86.5 701.9,85.9 704.0,85.9 706.2,86.5 708.3,85.9 710.4,84.8 712.6,82.7 714.7,81.6 716.8,80.1 719.0,80.1 721.1,81.6 723.2,84.8 725.4,87.0 727.5,88.0 729.7,87.0 731.8,85.9 733.9,81.6 736.1,76.3 738.2,74.2 740.3,77.4 742.5,79.5 744.6,73.1 746.7,67.8 748.9,68.8 751.0,73.1 753.1,75.2 755.3,73.1 757.4,72.0 759.5,73.1 761.7,74.2 763.8,72.0 766.0,67.8 768.1,67.3 770.2,71.0 772.4,76.3 774.5,73.1 776.6,69.9 778.8,68.8 780.9,67.8 783.0,71.0 785.2,73.1 787.3,72.0 790.5,71.0" fill="none" stroke="#2a9c62" stroke-width="1.25" stroke-linejoin="round"/>
<polyline points="568.5,169.2 571.7,166.0 574.9,160.7 578.1,154.3 581.3,149.0 584.5,143.6 587.7,140.4 589.8,139.3 592.0,141.5 594.1,140.4 596.2,139.3 598.4,137.2 600.5,138.3 602.6,136.1 604.8,134.0 606.9,131.9 609.0,128.7 611.2,128.7 613.3,125.5 615.4,124.4 617.6,121.2 619.7,118.0 621.9,116.9 624.0,113.7 626.1,111.6 628.3,109.4 630.4,108.4 632.5,107.3 634.7,106.2 636.8,108.4 638.9,110.5 641.1,107.3 643.2,106.2 645.3,109.4 647.5,111.6 649.6,109.4 651.7,108.4 653.9,106.2 656.0,105.2 658.2,104.1 660.3,103.0 662.4,103.0 664.6,102.0 666.7,100.9 668.8,97.7 671.0,95.6 673.1,96.6 675.2,98.8 677.4,97.7 678.4,98.1 680.5,95.9 682.7,95.1 684.8,96.6 686.9,95.5 689.1,94.4 691.2,93.4 693.4,94.4 695.5,95.5 697.6,92.3 699.8,89.1 701.9,89.5 704.0,91.2 706.2,90.2 708.3,91.2 710.4,88.0 712.6,87.0 714.7,89.1 716.8,92.3 719.0,91.2 721.1,88.0 723.2,85.9 725.4,85.9 727.5,87.0 729.7,86.5 731.8,85.9 733.9,84.8 736.1,85.9 738.2,86.5 740.3,85.9 742.5,84.8 744.6,83.8 746.7,84.8 748.9,88.0 751.0,88.0 753.1,84.8 755.3,81.6 757.4,88.0 758.5,94.4 759.5,91.2 761.7,84.8 763.8,80.6 766.0,82.7 768.1,87.0 770.2,88.0 772.4,82.7 774.5,80.6 776.6,82.7 778.8,81.6 780.9,80.6 783.0,84.8 785.2,82.7 787.3,79.5 790.5,81.6" fill="none" stroke="#d83c5a" stroke-width="1.25" stroke-linejoin="round"/>
<polyline points="568.5,169.2 571.7,166.0 574.9,160.7 578.1,153.2 581.3,144.7 583.4,139.3 585.6,137.2 587.7,136.1 590.9,135.1 594.1,135.1 597.3,134.0 600.5,133.6 603.7,133.6 605.8,134.0 609.0,131.9 612.2,129.7 615.4,130.8 617.6,134.0 619.7,130.8 621.9,128.7 624.0,125.5 626.1,124.4 628.3,122.3 630.4,121.2 632.5,119.1 634.7,118.0 636.8,115.9 638.9,114.8 641.1,113.7 643.2,114.8 645.3,116.9 647.5,125.5 649.6,121.2 651.7,118.0 653.9,115.9 656.0,113.7 658.2,112.7 660.3,114.8 662.4,115.9 664.6,114.8 666.7,112.7 668.8,116.9 671.0,119.1 673.1,123.3 675.2,128.7 677.4,130.8 678.4,120.1 680.5,117.9 682.7,122.2 684.8,124.3 686.9,122.2 689.1,120.7 691.2,122.2 693.4,124.3 695.5,123.3 697.6,122.2 699.8,120.1 701.9,119.0 704.0,120.1 706.2,119.0 708.3,117.9 710.4,117.9 712.6,119.0 714.7,122.2 716.8,127.5 719.0,130.7 721.1,129.7 723.2,125.4 725.4,120.1 727.5,115.8 729.7,116.9 731.8,122.2 733.9,124.3 736.1,122.2 738.2,119.0 740.3,123.3 742.5,125.4 744.6,122.2 746.7,116.9 748.9,117.9 751.0,119.0 753.1,115.8 755.3,116.9 757.4,119.0 759.5,120.1 761.7,120.1 763.8,122.2 766.0,120.1 768.1,116.9 770.2,113.7 772.4,115.8 774.5,117.9 776.6,116.9 778.8,117.9 780.9,125.4 783.0,134.0 784.7,140.4 786.2,135.0 788.4,129.7 790.5,129.7" fill="none" stroke="#7767b0" stroke-width="1.25" stroke-linejoin="round"/>
</g>
<text x="676.8" y="40.0" font-size="10.7" text-anchor="middle">lt_chasm to seekavoid_arena_01</text>
<text x="676.8" y="192.7" font-size="8.2" text-anchor="middle" textLength="34" lengthAdjust="spacingAndGlyphs">Timestep</text>
<text x="789.2" y="189.7" font-size="4.8" text-anchor="end">1e7</text>
<text transform="translate(550.0,109.5) rotate(-90)" font-size="8.2" text-anchor="middle" textLength="20.8" lengthAdjust="spacingAndGlyphs">Score</text>
<line x1="26.3" y1="344.10" x2="253.4" y2="344.10" stroke="#dedede" stroke-width="0.9"/>
<text transform="translate(22.1,345.70) scale(0.88,1)" font-size="6.0" text-anchor="end">−12</text>
<line x1="26.3" y1="324.96" x2="253.4" y2="324.96" stroke="#dedede" stroke-width="0.9"/>
<text transform="translate(22.1,326.56) scale(0.88,1)" font-size="6.0" text-anchor="end">−10</text>
<line x1="26.3" y1="305.81" x2="253.4" y2="305.81" stroke="#dedede" stroke-width="0.9"/>
<text transform="translate(22.1,307.41) scale(0.88,1)" font-size="6.0" text-anchor="end">−8</text>
<line x1="26.3" y1="286.67" x2="253.4" y2="286.67" stroke="#dedede" stroke-width="0.9"/>
<text transform="translate(22.1,288.27) scale(0.88,1)" font-size="6.0" text-anchor="end">−6</text>
<line x1="26.3" y1="267.53" x2="253.4" y2="267.53" stroke="#dedede" stroke-width="0.9"/>
<text transform="translate(22.1,269.13) scale(0.88,1)" font-size="6.0" text-anchor="end">−4</text>
<line x1="26.3" y1="248.39" x2="253.4" y2="248.39" stroke="#dedede" stroke-width="0.9"/>
<text transform="translate(22.1,249.99) scale(0.88,1)" font-size="6.0" text-anchor="end">−2</text>
<line x1="26.3" y1="229.24" x2="253.4" y2="229.24" stroke="#dedede" stroke-width="0.9"/>
<text transform="translate(22.1,230.84) scale(0.88,1)" font-size="6.0" text-anchor="end">0</text>
<line x1="26.3" y1="210.10" x2="253.4" y2="210.10" stroke="#dedede" stroke-width="0.9"/>
<text transform="translate(22.1,211.70) scale(0.88,1)" font-size="6.0" text-anchor="end">2</text>
<line x1="26.30" y1="210.1" x2="26.30" y2="344.1" stroke="#dedede" stroke-width="0.9"/>
<text transform="translate(26.30,351.1) scale(0.88,1)" font-size="6.0" text-anchor="middle">0</text>
<line x1="83.08" y1="210.1" x2="83.08" y2="344.1" stroke="#dedede" stroke-width="0.9"/>
<text transform="translate(83.08,351.1) scale(0.88,1)" font-size="6.0" text-anchor="middle">1</text>
<line x1="139.85" y1="210.1" x2="139.85" y2="344.1" stroke="#dedede" stroke-width="0.9"/>
<text transform="translate(139.85,351.1) scale(0.88,1)" font-size="6.0" text-anchor="middle">2</text>
<line x1="196.62" y1="210.1" x2="196.62" y2="344.1" stroke="#dedede" stroke-width="0.9"/>
<text transform="translate(196.62,351.1) scale(0.88,1)" font-size="6.0" text-anchor="middle">3</text>
<line x1="253.40" y1="210.1" x2="253.40" y2="344.1" stroke="#dedede" stroke-width="0.9"/>
<text transform="translate(253.40,351.1) scale(0.88,1)" font-size="6.0" text-anchor="middle">4</text>
<rect x="26.3" y="210.1" width="227.1" height="134.0" fill="none" stroke="#dedede" stroke-width="1"/>
<clipPath id="clip10"><rect x="26.3" y="210.1" width="227.1" height="134.0"/></clipPath>
<g clip-path="url(#clip10)">
<polygon points="35.5,279.0 37.6,255.5 40.8,244.9 47.2,239.5 53.6,237.4 60.0,236.3 66.4,235.3 72.8,233.1 79.2,238.5 85.6,238.5 92.0,237.4 98.4,240.6 104.8,239.5 111.2,241.7 117.6,239.5 124.0,234.2 130.4,235.3 136.8,236.3 142.5,243.9 146.9,241.7 151.4,238.7 155.8,238.7 160.3,240.9 164.7,240.9 169.2,242.4 173.6,243.9 178.1,240.2 182.5,238.7 187.0,234.3 191.4,236.5 195.9,234.3 200.3,237.2 204.8,240.2 209.2,229.8 213.7,231.3 218.2,237.2 222.6,241.7 227.1,237.2 231.5,232.8 236.0,229.1 240.4,234.3 244.9,228.3 250.1,227.6 250.1,241.7 244.9,240.9 240.4,246.1 236.0,241.7 231.5,245.4 227.1,249.8 222.6,251.3 218.2,249.1 213.7,244.7 209.2,241.7 204.8,249.8 200.3,247.6 195.9,245.4 191.4,246.1 187.0,246.1 182.5,251.3 176.6,253.6 173.6,259.5 171.4,256.5 169.2,252.1 164.7,249.8 160.3,250.6 155.8,247.6 151.4,249.1 146.9,252.1 142.5,256.5 136.8,251.3 130.4,248.1 124.0,247.0 117.6,253.4 111.2,255.5 104.8,251.3 98.4,254.5 92.0,249.1 85.6,251.3 79.2,249.1 72.8,244.9 66.4,244.9 60.0,247.0 53.6,250.2 47.2,251.3 40.8,255.5 37.6,266.2 35.5,291.8" fill="#4a68b4" fill-opacity="0.2"/>
<polygon points="35.5,285.4 37.6,276.9 39.7,253.4 42.9,248.1 47.2,249.1 53.6,244.9 60.0,238.5 64.3,234.2 70.7,232.1 77.1,233.1 83.5,238.5 89.9,234.2 96.3,235.3 102.7,236.3 109.1,238.5 113.3,228.9 117.6,227.8 124.0,227.8 128.3,224.6 134.7,228.9 138.9,234.2 142.5,226.8 146.9,226.1 151.4,223.9 154.3,219.4 156.6,218.7 158.8,223.9 162.5,232.8 166.9,234.3 171.4,238.0 175.8,228.3 180.3,227.6 185.5,223.9 189.2,219.4 191.4,217.2 193.7,220.9 198.1,226.8 202.6,226.1 207.0,224.6 211.5,222.4 215.2,216.5 218.2,213.5 221.1,215.7 224.1,222.4 228.5,224.6 233.0,225.4 237.4,226.8 241.9,224.6 246.4,223.9 250.1,223.9 250.1,232.8 247.8,232.8 243.4,232.0 238.9,235.0 234.5,232.8 230.0,232.0 225.6,231.3 221.1,230.6 218.2,229.1 215.2,229.8 211.5,232.8 207.0,233.5 202.6,235.7 198.1,233.5 193.7,232.0 189.2,232.0 185.5,235.7 180.3,238.0 175.8,239.5 171.4,248.4 166.9,246.9 162.5,247.6 158.0,249.1 154.3,238.7 151.4,239.5 146.9,241.7 142.5,241.7 138.9,245.9 134.7,241.7 128.3,238.5 124.0,241.7 117.6,239.5 113.3,238.5 109.1,249.1 102.7,244.9 96.3,244.9 89.9,243.8 83.5,247.0 77.1,241.7 70.7,239.5 64.3,242.7 60.0,251.3 53.6,257.7 47.2,259.8 42.9,258.7 39.7,266.2 37.6,291.8 35.5,296.1" fill="#34aa66" fill-opacity="0.2"/>
<polygon points="35.5,315.3 37.6,296.1 40.8,285.4 44.0,274.7 47.2,266.2 50.4,258.7 52.5,257.7 55.7,261.9 58.9,257.7 62.1,249.1 66.4,245.9 72.8,244.9 79.2,240.6 85.6,244.9 92.0,248.1 98.4,247.0 104.8,250.2 109.1,251.3 113.3,247.0 117.6,241.7 124.0,238.5 130.4,244.9 136.8,240.6 142.5,239.5 146.9,240.9 151.4,238.0 155.8,235.7 160.3,240.2 164.7,239.5 169.2,241.7 173.6,244.7 178.1,249.1 182.5,249.1 187.0,238.7 191.4,240.2 195.9,238.7 200.3,243.2 204.8,243.2 209.2,244.7 213.7,247.6 218.2,253.6 221.1,250.6 225.6,240.9 230.0,240.2 234.5,241.7 238.9,239.5 243.4,232.8 247.8,232.8 250.1,234.3 250.1,243.9 247.8,240.9 243.4,241.7 238.9,246.9 234.5,249.1 230.0,246.9 225.6,249.1 221.1,274.3 218.9,281.0 216.7,272.9 213.7,261.0 209.2,255.0 204.8,252.1 200.3,256.5 195.9,247.6 191.4,253.6 189.2,247.6 185.5,255.0 181.0,262.5 178.8,268.4 176.6,261.0 173.6,255.0 169.2,250.6 164.7,247.6 160.3,248.4 155.8,244.7 151.4,245.4 146.9,250.6 142.5,246.9 136.8,253.4 130.4,257.7 124.0,247.0 117.6,251.3 113.3,259.8 109.1,265.1 104.8,260.9 98.4,257.7 92.0,257.7 85.6,254.5 79.2,249.1 72.8,255.5 68.5,259.8 64.3,260.9 61.1,274.7 57.9,293.9 54.7,283.3 52.5,279.0 50.4,283.3 47.2,293.9 44.0,298.2 40.8,304.6 37.6,313.1 35.5,319.5" fill="#e6385c" fill-opacity="0.2"/>
<polygon points="35.5,270.5 37.6,249.1 40.8,240.6 45.1,235.3 49.3,232.1 53.6,226.7 57.9,219.3 60.0,217.1 63.2,227.8 68.5,232.1 74.9,232.1 81.3,229.9 85.6,236.3 92.0,235.3 98.4,234.2 102.7,232.1 106.9,232.1 113.3,236.3 119.7,232.1 126.1,234.2 130.4,227.8 136.8,227.8 142.5,228.3 146.9,236.5 151.4,238.0 155.8,238.0 160.3,239.5 164.7,239.5 169.2,239.5 173.6,229.8 178.1,229.1 182.5,230.6 187.0,226.8 191.4,226.8 195.9,229.8 200.3,235.7 204.8,226.8 209.2,230.6 213.7,236.5 218.2,230.6 222.6,224.6 227.1,221.6 231.5,223.9 236.0,223.9 240.4,229.1 244.9,229.8 247.8,220.9 250.1,222.4 250.1,240.2 247.8,239.5 244.9,240.9 240.4,240.2 236.0,233.5 231.5,233.5 227.1,232.8 222.6,234.3 218.2,241.7 213.7,247.6 209.2,242.4 204.8,239.5 200.3,249.1 195.9,240.2 191.4,237.2 187.0,238.0 182.5,241.7 178.1,240.2 173.6,243.2 169.2,251.3 164.7,254.3 162.5,258.0 160.3,252.1 155.8,250.6 151.4,253.6 149.1,259.5 146.9,250.6 144.7,241.7 142.5,238.0 134.7,244.9 128.3,245.9 121.9,249.1 115.5,255.5 111.2,253.4 104.8,247.0 101.6,260.9 98.4,271.5 94.1,253.4 89.9,257.7 83.5,251.3 77.1,249.1 70.7,244.9 66.4,247.0 62.1,247.0 57.9,242.7 53.6,245.9 49.3,247.0 45.1,251.3 40.8,255.5 37.6,264.1 35.5,287.5" fill="#8070b8" fill-opacity="0.2"/>
<polyline points="35.5,285.4 36.5,270.5 37.6,259.8 39.7,249.1 41.9,247.0 44.0,245.9 46.1,244.9 48.3,242.7 50.4,242.7 52.5,243.8 54.7,241.7 56.8,242.7 58.9,241.7 61.1,240.6 63.2,240.6 65.3,239.5 67.5,238.5 69.6,237.4 71.7,237.4 73.9,238.5 76.0,240.6 78.1,242.7 80.3,242.7 82.4,241.7 84.5,242.7 86.7,243.8 88.8,242.7 90.9,241.7 93.1,242.7 95.2,244.9 97.3,247.0 99.5,245.9 101.6,244.9 103.7,243.8 105.9,244.9 108.0,245.9 110.1,247.0 112.3,248.1 114.4,247.0 116.5,245.9 118.7,244.9 120.8,242.7 122.9,239.5 125.1,238.5 127.2,239.5 129.3,240.6 131.5,241.7 133.6,242.7 135.7,244.9 137.9,243.8 140.0,247.0 142.5,249.8 144.7,248.4 146.9,246.1 149.1,245.4 151.4,243.9 153.6,241.7 155.8,242.4 158.0,243.9 160.3,244.7 162.5,245.4 164.7,244.7 166.9,245.4 169.2,247.6 171.4,251.3 173.6,249.8 175.8,246.9 178.1,246.1 180.3,246.9 182.5,245.4 184.8,241.7 187.0,239.5 189.2,238.7 191.4,240.9 193.7,242.4 195.9,240.2 198.1,238.7 200.3,240.9 202.6,244.7 204.8,245.4 207.0,240.9 209.2,235.7 211.5,232.8 213.7,238.0 215.9,243.2 218.2,243.9 220.4,245.4 222.6,246.9 224.8,244.7 227.1,243.9 229.3,241.7 231.5,238.7 233.7,235.7 236.0,234.3 238.2,237.2 240.4,240.9 242.6,238.0 244.9,234.3 247.1,232.0 250.1,232.8" fill="none" stroke="#4a66a6" stroke-width="1.25" stroke-linejoin="round" stroke-dasharray="2.2,1.6"/>
<polyline points="35.5,289.7 36.5,293.9 37.6,285.4 38.7,270.5 39.7,259.8 40.8,254.5 42.9,253.4 45.1,253.4 47.2,253.4 49.3,252.3 51.5,251.3 53.6,250.2 55.7,250.2 57.9,249.1 60.0,244.9 62.1,238.5 64.3,237.4 66.4,238.5 68.5,236.3 70.7,235.3 72.8,234.6 74.9,235.3 77.1,236.3 79.2,239.5 81.3,241.7 83.5,242.7 85.6,239.5 87.7,237.4 89.9,238.5 92.0,241.7 94.1,242.7 96.3,239.5 98.4,237.4 100.5,238.5 102.7,239.5 104.8,242.7 106.9,243.8 109.1,242.7 111.2,236.3 113.3,233.1 115.5,232.1 117.6,234.2 119.7,236.3 121.9,238.5 124.0,234.2 126.1,232.1 128.3,231.0 130.4,232.1 132.5,233.1 134.7,235.3 136.8,238.5 138.9,240.6 141.1,238.5 142.5,235.0 144.7,234.3 146.9,234.3 149.1,235.0 151.4,233.5 153.6,232.8 155.8,233.5 158.0,235.7 160.3,238.7 162.5,240.2 164.7,239.5 166.9,240.9 169.2,242.4 171.4,243.2 173.6,238.0 175.8,233.5 178.1,232.8 180.3,232.8 182.5,233.5 184.8,232.8 187.0,229.8 189.2,227.6 191.4,226.8 193.7,227.6 195.9,228.3 198.1,229.8 200.3,230.6 202.6,231.3 204.8,229.8 207.0,229.1 209.2,229.1 211.5,228.3 213.7,226.8 215.9,223.9 218.2,223.1 220.4,223.9 222.6,225.4 224.8,226.8 227.1,226.8 229.3,227.6 231.5,227.6 233.7,228.3 236.0,230.6 238.2,231.3 240.4,229.1 242.6,227.6 244.9,227.6 247.1,228.3 250.1,228.3" fill="none" stroke="#2a9c62" stroke-width="1.25" stroke-linejoin="round"/>
<polyline points="35.5,317.4 36.5,306.7 37.6,300.3 39.7,293.9 41.9,287.5 44.0,283.3 46.1,279.0 48.3,272.6 50.4,267.3 52.5,265.1 54.7,270.5 56.8,277.9 58.9,275.8 61.1,261.9 63.2,251.3 65.3,250.2 67.5,252.3 69.6,253.4 71.7,250.2 73.9,248.1 76.0,245.9 78.1,243.8 80.3,243.8 82.4,245.9 84.5,249.1 86.7,251.3 88.8,252.3 90.9,254.5 93.1,252.3 95.2,250.2 97.3,250.2 99.5,253.4 101.6,254.5 103.7,254.5 105.9,256.6 108.0,258.7 110.1,258.7 112.3,256.6 114.4,252.3 116.5,245.9 118.7,243.8 120.8,244.9 122.9,242.7 125.1,241.7 127.2,243.8 129.3,248.1 131.5,252.3 133.6,251.3 135.7,248.1 137.9,244.9 140.0,242.7 142.5,242.4 144.7,244.7 146.9,246.9 149.1,245.4 151.4,241.7 153.6,238.7 155.8,240.2 158.0,243.2 160.3,243.9 162.5,243.2 164.7,242.4 166.9,243.9 169.2,246.1 171.4,247.6 173.6,249.1 175.8,252.8 178.1,256.5 180.3,257.3 182.5,254.3 184.8,249.1 187.0,243.9 189.2,242.4 191.4,245.4 193.7,243.9 195.9,242.4 198.1,244.7 200.3,247.6 202.6,247.6 204.8,246.9 207.0,248.4 209.2,249.8 211.5,251.3 213.7,255.0 215.9,259.5 218.2,264.7 219.6,265.4 221.1,261.0 223.3,252.1 225.6,244.7 227.8,242.4 230.0,243.2 232.3,244.7 234.5,246.1 236.7,245.4 238.9,243.2 241.2,240.2 243.4,237.2 245.6,234.3 247.8,236.5 250.1,239.5" fill="none" stroke="#d83c5a" stroke-width="1.25" stroke-linejoin="round"/>
<polyline points="35.5,279.0 36.5,266.2 37.6,255.5 39.7,250.2 41.9,247.0 44.0,242.7 46.1,239.5 48.3,236.3 50.4,237.4 52.5,238.5 54.7,235.3 56.8,229.9 58.9,225.7 61.1,229.9 63.2,238.5 65.3,240.6 67.5,239.5 69.6,237.4 71.7,236.3 73.9,237.4 76.0,239.5 78.1,241.7 80.3,239.5 82.4,236.3 84.5,240.6 86.7,244.9 88.8,245.9 90.9,244.9 93.1,242.7 95.2,241.7 97.3,240.6 99.5,245.9 101.6,248.1 103.7,241.7 105.9,237.4 108.0,239.5 110.1,241.7 112.3,244.9 114.4,245.9 116.5,241.7 118.7,239.5 120.8,238.5 122.9,239.5 125.1,242.7 127.2,239.5 129.3,235.3 131.5,234.2 133.6,236.3 135.7,237.4 137.9,234.2 140.0,234.2 142.5,233.5 144.7,235.0 146.9,240.9 149.1,243.9 151.4,242.4 153.6,240.9 155.8,242.4 158.0,243.9 160.3,243.9 162.5,243.2 164.7,243.9 166.9,245.4 169.2,243.9 171.4,240.2 173.6,235.7 175.8,233.5 178.1,234.3 180.3,235.0 182.5,235.7 184.8,234.3 187.0,232.0 189.2,230.6 191.4,231.3 193.7,232.8 195.9,235.0 198.1,238.0 200.3,241.7 202.6,236.5 204.8,232.8 207.0,232.8 209.2,235.7 211.5,239.5 213.7,241.7 215.9,239.5 218.2,235.7 220.4,232.0 222.6,229.1 224.8,227.6 227.1,226.8 229.3,228.3 231.5,228.3 233.7,226.8 236.0,228.3 238.2,231.3 240.4,234.3 242.6,235.7 244.9,235.0 247.1,232.8 250.1,234.3" fill="none" stroke="#7767b0" stroke-width="1.25" stroke-linejoin="round"/>
</g>
<text x="139.8" y="207.5" font-size="10.7" text-anchor="middle">stairway_to_melon_01 to lt_chasm</text>
<text x="139.8" y="360.4" font-size="8.2" text-anchor="middle" textLength="34" lengthAdjust="spacingAndGlyphs">Timestep</text>
<text x="252.2" y="357.4" font-size="4.8" text-anchor="end">1e7</text>
<text transform="translate(8.5,277.1) rotate(-90)" font-size="8.2" text-anchor="middle" textLength="20.8" lengthAdjust="spacingAndGlyphs">Score</text>
<line x1="294.5" y1="344.10" x2="522.1" y2="344.10" stroke="#dedede" stroke-width="0.9"/>
<text transform="translate(290.3,345.70) scale(0.88,1)" font-size="6.0" text-anchor="end">8</text>
<line x1="294.5" y1="329.21" x2="522.1" y2="329.21" stroke="#dedede" stroke-width="0.9"/>
<text transform="translate(290.3,330.81) scale(0.88,1)" font-size="6.0" text-anchor="end">10</text>
<line x1="294.5" y1="314.32" x2="522.1" y2="314.32" stroke="#dedede" stroke-width="0.9"/>
<text transform="translate(290.3,315.92) scale(0.88,1)" font-size="6.0" text-anchor="end">12</text>
<line x1="294.5" y1="299.43" x2="522.1" y2="299.43" stroke="#dedede" stroke-width="0.9"/>
<text transform="translate(290.3,301.03) scale(0.88,1)" font-size="6.0" text-anchor="end">14</text>
<line x1="294.5" y1="284.54" x2="522.1" y2="284.54" stroke="#dedede" stroke-width="0.9"/>
<text transform="translate(290.3,286.14) scale(0.88,1)" font-size="6.0" text-anchor="end">16</text>
<line x1="294.5" y1="269.66" x2="522.1" y2="269.66" stroke="#dedede" stroke-width="0.9"/>
<text transform="translate(290.3,271.26) scale(0.88,1)" font-size="6.0" text-anchor="end">18</text>
<line x1="294.5" y1="254.77" x2="522.1" y2="254.77" stroke="#dedede" stroke-width="0.9"/>
<text transform="translate(290.3,256.37) scale(0.88,1)" font-size="6.0" text-anchor="end">20</text>
<line x1="294.5" y1="239.88" x2="522.1" y2="239.88" stroke="#dedede" stroke-width="0.9"/>
<text transform="translate(290.3,241.48) scale(0.88,1)" font-size="6.0" text-anchor="end">22</text>
<line x1="294.5" y1="224.99" x2="522.1" y2="224.99" stroke="#dedede" stroke-width="0.9"/>
<text transform="translate(290.3,226.59) scale(0.88,1)" font-size="6.0" text-anchor="end">24</text>
<line x1="294.5" y1="210.10" x2="522.1" y2="210.10" stroke="#dedede" stroke-width="0.9"/>
<text transform="translate(290.3,211.70) scale(0.88,1)" font-size="6.0" text-anchor="end">26</text>
<line x1="294.50" y1="210.1" x2="294.50" y2="344.1" stroke="#dedede" stroke-width="0.9"/>
<text transform="translate(294.50,351.1) scale(0.88,1)" font-size="6.0" text-anchor="middle">0</text>
<line x1="351.40" y1="210.1" x2="351.40" y2="344.1" stroke="#dedede" stroke-width="0.9"/>
<text transform="translate(351.40,351.1) scale(0.88,1)" font-size="6.0" text-anchor="middle">1</text>
<line x1="408.30" y1="210.1" x2="408.30" y2="344.1" stroke="#dedede" stroke-width="0.9"/>
<text transform="translate(408.30,351.1) scale(0.88,1)" font-size="6.0" text-anchor="middle">2</text>
<line x1="465.20" y1="210.1" x2="465.20" y2="344.1" stroke="#dedede" stroke-width="0.9"/>
<text transform="translate(465.20,351.1) scale(0.88,1)" font-size="6.0" text-anchor="middle">3</text>
<line x1="522.10" y1="210.1" x2="522.10" y2="344.1" stroke="#dedede" stroke-width="0.9"/>
<text transform="translate(522.10,351.1) scale(0.88,1)" font-size="6.0" text-anchor="middle">4</text>
<rect x="294.5" y="210.1" width="227.6" height="134.0" fill="none" stroke="#dedede" stroke-width="1"/>
<clipPath id="clip11"><rect x="294.5" y="210.1" width="227.6" height="134.0"/></clipPath>
<g clip-path="url(#clip11)">
<polygon points="300.1,309.5 309.1,307.2 316.7,304.2 324.3,305.7 328.8,298.9 333.3,298.9 339.4,297.4 343.9,293.6 348.5,291.3 351.5,288.3 354.5,289.8 359.1,288.3 362.1,283.7 366.6,289.8 369.6,297.4 374.2,294.3 378.7,291.3 384.8,289.8 390.8,292.8 395.4,291.3 399.9,277.7 402.9,261.1 405.9,265.6 409.0,264.1 412.0,270.1 412.5,261.9 416.7,274.7 421.0,287.5 425.3,281.1 429.5,276.9 434.9,283.3 441.3,289.7 445.5,294.0 448.7,304.6 453.0,291.8 458.3,285.4 464.7,289.7 471.1,289.7 477.5,287.5 484.0,287.5 490.4,287.5 496.8,289.7 502.1,296.1 507.4,279.0 511.7,257.7 514.9,251.3 518.1,261.9 521.7,268.3 521.7,294.0 518.1,287.5 514.9,285.4 511.7,287.5 507.4,304.6 502.1,315.3 496.8,304.6 490.4,300.4 484.0,302.5 477.5,302.5 471.1,306.8 464.7,306.8 458.3,302.5 453.0,313.2 448.7,326.0 445.5,315.3 441.3,304.6 434.9,300.4 429.5,294.0 425.3,298.2 421.0,302.5 416.7,294.0 412.5,291.8 412.0,285.3 409.0,288.3 405.9,289.8 402.9,288.3 399.9,297.4 395.4,304.9 390.8,303.4 384.8,301.9 378.7,302.7 374.2,303.4 369.6,304.9 366.6,300.4 362.1,297.4 359.1,300.4 354.5,300.4 351.5,298.9 348.5,300.4 343.9,302.7 339.4,305.7 333.3,307.2 328.8,307.9 324.3,313.2 316.7,311.7 309.1,314.0 300.1,315.5" fill="#4a68b4" fill-opacity="0.2"/>
<polygon points="300.1,304.9 303.1,312.5 306.1,318.5 309.1,318.5 313.7,315.5 318.2,306.4 322.7,304.9 327.3,301.9 331.8,298.9 336.4,298.9 340.9,300.4 345.4,294.3 350.0,291.3 354.5,288.3 359.1,286.8 363.6,285.3 368.1,291.3 371.2,294.3 374.2,282.2 378.7,267.1 381.7,264.1 384.8,256.5 387.8,255.0 390.8,258.0 393.8,262.6 396.9,274.7 399.9,280.7 402.9,282.2 405.9,277.7 409.0,270.1 412.0,268.6 412.5,257.7 415.7,268.3 419.9,259.8 424.2,266.2 428.5,264.1 432.7,261.9 437.0,264.1 441.3,266.2 444.5,285.4 447.7,294.0 451.9,287.5 456.2,274.7 459.4,296.1 464.7,302.5 471.1,300.4 477.5,296.1 484.0,291.8 489.3,283.3 492.5,261.9 495.7,247.0 498.9,244.9 501.0,266.2 505.3,283.3 511.7,281.1 518.1,279.0 521.7,285.4 521.7,298.2 518.1,296.1 513.8,291.8 507.4,300.4 501.0,296.1 496.8,283.3 492.5,291.8 488.2,302.5 481.8,304.6 475.4,308.9 469.0,313.2 463.7,319.6 459.4,313.2 455.1,300.4 450.9,306.8 446.6,308.9 442.3,298.2 438.1,291.8 432.7,287.5 426.3,287.5 421.0,287.5 416.7,289.7 412.5,287.5 412.0,285.3 409.0,288.3 405.9,295.8 402.9,298.9 399.9,297.4 396.9,292.8 393.8,286.8 390.8,285.3 387.8,283.7 384.8,283.7 381.7,289.8 378.7,292.8 374.2,298.9 371.2,306.4 369.6,304.9 368.1,298.9 363.6,295.8 359.1,297.4 354.5,297.4 350.0,300.4 345.4,303.4 340.9,307.9 336.4,306.4 331.8,306.4 327.3,311.7 322.7,314.0 318.2,315.5 315.2,323.1 312.2,330.6 309.1,335.2 306.1,332.2 303.1,324.6 300.1,312.5" fill="#34aa66" fill-opacity="0.2"/>
<polygon points="300.1,307.2 309.1,307.9 316.7,306.4 319.7,303.4 322.0,285.3 323.5,273.2 325.0,282.2 326.5,300.4 329.6,304.9 331.8,288.3 334.1,271.6 335.6,268.6 337.1,279.2 339.4,298.9 341.7,303.4 344.7,292.8 348.5,289.8 351.5,285.3 354.5,282.2 357.5,274.7 360.6,279.2 363.6,271.6 365.9,268.6 368.1,282.2 370.4,297.4 372.7,291.3 375.7,285.3 378.7,292.8 381.7,297.4 384.8,295.8 389.3,291.3 393.8,289.8 399.9,289.8 405.9,297.4 412.0,291.3 412.5,274.7 417.8,276.9 421.0,257.7 424.2,274.7 428.5,281.1 432.7,266.2 434.9,259.8 439.1,279.0 445.5,287.5 451.9,285.4 458.3,279.0 462.6,276.9 466.9,279.0 471.1,285.4 475.4,281.1 478.6,236.3 480.8,225.7 484.0,219.3 486.1,227.8 488.2,249.1 490.4,270.5 494.6,276.9 498.9,272.6 503.2,283.3 509.6,287.5 513.8,276.9 518.1,279.0 521.7,289.7 521.7,308.9 516.0,294.0 511.7,302.5 505.3,304.6 501.0,296.1 496.8,289.7 492.5,298.2 488.2,287.5 485.0,283.3 481.8,279.0 477.5,291.8 473.3,302.5 466.9,300.4 460.5,299.3 454.1,302.5 446.6,304.6 440.2,300.4 435.9,287.5 430.6,298.2 426.3,304.6 422.1,300.4 417.8,298.2 412.5,296.1 412.0,300.4 405.9,307.9 399.9,303.4 393.8,303.4 389.3,306.4 384.8,314.0 381.7,321.6 378.7,314.0 374.2,303.4 371.2,317.0 369.6,311.0 366.6,295.8 363.6,297.4 360.6,295.8 356.0,297.4 351.5,300.4 346.9,304.9 343.9,314.0 341.7,325.3 339.4,320.1 337.1,311.0 334.1,304.9 331.8,320.1 329.6,337.4 327.3,326.1 325.0,312.5 322.7,315.5 320.5,329.1 318.2,326.1 315.2,317.0 309.1,315.5 300.1,314.8" fill="#e6385c" fill-opacity="0.2"/>
<polygon points="300.1,302.7 304.6,303.4 309.1,298.9 312.2,291.3 315.2,280.0 316.7,288.3 319.7,301.9 324.3,312.5 328.8,314.0 333.3,303.4 337.9,300.4 342.4,300.4 346.9,304.9 351.5,298.9 356.0,298.1 360.6,298.9 366.6,301.9 369.6,300.4 372.7,294.3 377.2,297.4 380.2,291.3 383.3,283.7 386.3,277.7 389.3,280.7 393.8,280.7 396.9,286.8 399.9,285.3 402.9,276.2 404.4,258.0 407.5,267.1 410.5,270.1 412.0,271.6 412.5,283.3 417.8,294.0 422.1,296.1 426.3,287.5 432.7,289.7 437.0,281.1 443.4,287.5 449.8,287.5 456.2,287.5 462.6,289.7 469.0,287.5 473.3,289.7 478.6,283.3 484.0,291.8 490.4,287.5 496.8,289.7 503.2,291.8 509.6,285.4 513.8,279.0 518.1,287.5 521.7,294.0 521.7,308.9 518.1,304.6 513.8,302.5 509.6,306.8 503.2,308.9 496.8,304.6 490.4,306.8 484.0,308.9 478.6,298.2 473.3,306.8 469.0,304.6 462.6,306.8 456.2,304.6 449.8,302.5 443.4,304.6 437.0,300.4 432.7,306.8 426.3,304.6 422.1,311.0 417.8,304.6 412.5,298.2 412.0,301.9 409.0,300.4 405.9,304.9 402.9,301.9 399.9,300.4 396.9,301.9 392.3,295.8 387.8,294.3 383.3,300.4 378.7,306.4 374.2,306.4 371.2,306.4 368.1,314.0 365.1,311.0 360.6,309.5 356.0,309.5 351.5,309.5 346.9,315.5 342.4,312.5 337.9,312.5 333.3,315.5 330.3,324.6 327.3,326.1 324.3,322.3 321.2,318.5 318.2,307.9 315.2,301.9 312.2,303.4 309.1,311.0 304.6,312.5 300.1,310.2" fill="#8070b8" fill-opacity="0.2"/>
<polyline points="300.1,312.5 302.3,313.2 304.6,312.5 306.9,311.7 309.1,311.0 311.4,310.2 313.7,309.5 315.9,307.9 318.2,307.2 319.7,306.4 321.2,307.2 322.7,307.9 324.3,308.7 325.8,307.2 327.3,304.9 328.8,303.4 330.3,301.9 331.8,302.7 333.3,303.4 334.8,304.9 336.4,304.2 337.9,303.4 339.4,301.9 340.9,301.1 342.4,300.4 343.9,298.9 345.4,298.1 346.9,297.4 348.5,296.6 350.0,295.8 351.5,294.3 353.0,292.8 354.5,295.1 356.0,296.6 357.5,295.8 359.1,295.1 360.6,293.6 362.1,291.3 363.6,293.6 365.1,294.3 366.6,295.8 368.1,299.6 369.6,301.1 371.2,301.1 372.7,300.4 374.2,299.6 375.7,298.9 377.2,298.1 378.7,297.4 380.2,296.6 381.7,297.4 383.3,296.6 384.8,295.8 386.3,294.3 387.8,293.6 389.3,295.8 390.8,297.4 392.3,298.9 393.8,300.4 395.4,299.6 396.9,297.4 398.4,295.1 399.9,288.3 401.4,281.5 402.9,279.2 404.4,278.4 405.9,280.7 407.5,279.2 409.0,277.7 410.5,276.9 412.0,277.7 412.5,279.0 414.6,283.3 416.7,288.6 418.9,294.0 421.0,295.0 423.1,292.9 425.3,289.7 427.4,287.5 429.5,285.4 431.7,288.6 433.8,291.8 435.9,292.9 438.1,294.0 440.2,296.1 442.3,300.4 444.5,304.6 446.6,311.0 448.7,317.4 450.9,313.2 453.0,302.5 455.1,296.1 457.3,294.0 459.4,295.0 461.5,297.2 463.7,296.1 465.8,299.3 467.9,300.4 470.1,299.3 472.2,298.2 474.3,297.2 476.5,295.0 478.6,294.0 480.8,296.1 482.9,296.1 485.0,294.0 487.2,295.0 489.3,296.1 491.4,294.0 493.6,295.0 495.7,297.2 497.8,298.2 500.0,301.4 502.1,306.8 504.2,300.4 506.4,296.1 508.5,288.6 510.6,281.1 512.8,273.7 514.9,271.5 517.0,274.7 519.2,276.9 521.7,281.1" fill="none" stroke="#4a66a6" stroke-width="1.25" stroke-linejoin="round" stroke-dasharray="2.2,1.6"/>
<polyline points="300.1,307.9 301.6,314.0 303.1,318.5 304.6,322.3 306.1,324.6 307.6,325.3 309.1,324.6 310.6,323.1 312.2,321.6 313.7,319.3 315.2,317.0 316.7,314.8 318.2,311.0 319.7,309.5 321.2,307.2 322.7,309.5 324.3,311.7 325.8,308.7 327.3,307.2 328.8,304.9 330.3,303.4 331.8,302.7 333.3,301.9 334.8,303.4 336.4,302.7 337.9,301.9 339.4,304.9 340.9,304.2 342.4,303.4 343.9,301.9 345.4,299.6 346.9,298.1 348.5,297.4 350.0,296.6 351.5,295.8 353.0,294.3 354.5,292.8 356.0,292.1 357.5,291.3 359.1,292.8 360.6,291.3 362.1,292.1 363.6,290.6 365.1,291.3 366.6,292.1 368.1,294.3 369.6,299.6 371.2,300.4 372.7,294.3 374.2,289.8 375.7,286.8 377.2,284.5 378.7,281.5 380.2,280.0 381.7,279.2 383.3,276.9 384.8,271.6 386.3,270.1 387.8,271.6 389.3,272.4 390.8,274.7 392.3,273.2 393.8,274.7 395.4,279.2 396.9,283.7 398.4,287.5 399.9,289.0 401.4,288.3 402.9,289.8 404.4,292.8 405.9,288.3 407.5,283.7 409.0,280.0 410.5,277.7 412.0,276.2 412.5,272.6 414.6,275.8 416.7,281.1 418.9,281.1 421.0,276.9 423.1,277.9 425.3,279.0 427.4,276.9 429.5,277.9 431.7,276.9 433.8,277.9 435.9,279.0 438.1,283.3 440.2,287.5 442.3,289.7 444.5,296.1 446.6,302.5 448.7,301.4 450.9,300.4 453.0,299.3 455.1,291.8 457.3,289.7 459.4,304.6 461.5,308.9 463.7,310.0 465.8,308.9 467.9,306.8 470.1,306.8 472.2,305.7 474.3,304.6 476.5,302.5 478.6,300.4 480.8,299.3 482.9,297.2 485.0,298.2 487.2,294.0 489.3,291.8 491.4,283.3 493.6,274.7 495.7,271.5 497.8,272.6 500.0,279.0 502.1,287.5 504.2,291.8 506.4,291.8 508.5,294.0 510.6,289.7 512.8,283.3 514.9,283.3 517.0,285.4 519.2,287.5 521.7,291.8" fill="none" stroke="#2a9c62" stroke-width="1.25" stroke-linejoin="round"/>
<polyline points="300.1,311.0 302.3,311.7 304.6,311.0 306.9,311.7 309.1,312.5 311.4,311.7 313.7,312.5 315.9,312.2 317.4,314.8 319.0,318.5 320.5,317.0 322.0,307.9 323.5,300.4 325.0,303.4 326.5,312.5 328.0,318.5 329.6,317.0 331.1,309.5 332.6,300.4 334.1,294.3 335.6,292.1 337.1,297.4 338.6,304.9 340.1,311.0 341.7,313.2 343.2,307.9 344.7,301.9 346.2,298.9 347.7,298.1 349.2,296.6 350.7,294.3 352.2,292.1 353.8,291.3 355.3,290.6 356.8,288.3 358.3,287.5 359.8,286.8 361.3,289.0 362.8,291.3 364.3,287.5 365.9,286.0 367.4,289.0 368.9,295.1 370.4,304.2 371.9,300.4 373.4,294.3 374.9,292.8 376.4,297.4 378.0,303.4 379.5,306.4 381.0,307.9 382.5,304.9 384.0,301.9 385.5,299.6 387.0,298.9 388.6,297.4 390.1,298.1 391.6,297.4 393.1,295.8 394.6,295.1 396.1,298.1 397.6,297.4 399.1,294.3 400.7,298.9 402.2,303.4 403.7,304.2 405.2,301.9 406.7,303.4 408.2,301.9 410.5,298.1 412.0,295.8 412.5,285.4 414.6,281.1 416.7,287.5 418.9,291.8 421.0,285.4 423.1,288.6 425.3,294.0 427.4,296.1 429.5,291.8 431.7,285.4 433.8,281.1 435.9,276.9 438.1,283.3 440.2,289.7 442.3,288.6 444.5,292.9 446.6,298.2 448.7,296.1 450.9,294.0 453.0,292.9 455.1,295.0 457.3,292.9 459.4,290.8 461.5,288.6 463.7,287.5 465.8,289.7 467.9,294.0 470.1,297.2 472.2,295.0 474.3,294.0 476.5,285.4 478.6,268.3 480.1,258.7 481.8,255.1 483.5,253.8 485.2,253.4 486.9,257.7 488.6,268.3 490.4,281.1 492.5,288.6 494.6,285.4 496.8,279.0 498.9,280.1 501.0,287.5 503.2,294.0 505.3,296.1 507.4,298.2 509.6,296.1 511.7,291.8 513.8,285.4 516.0,283.3 518.1,287.5 520.2,296.1 521.7,300.4" fill="none" stroke="#d83c5a" stroke-width="1.25" stroke-linejoin="round"/>
<polyline points="300.1,306.4 301.6,304.2 303.1,305.7 304.6,307.9 306.1,308.7 307.6,307.2 309.1,304.9 310.6,301.1 312.2,298.1 313.7,295.8 315.2,295.1 316.7,298.1 318.2,303.4 319.7,308.7 321.2,313.2 322.7,315.5 324.3,317.8 325.8,319.3 327.3,320.1 328.8,320.8 330.3,318.5 331.8,314.8 333.3,309.5 334.8,306.4 336.4,304.9 337.9,307.2 339.4,307.9 340.9,306.4 342.4,307.2 343.9,309.5 345.4,311.7 346.9,311.0 348.5,308.7 350.0,307.2 351.5,304.9 353.0,303.4 354.5,304.2 356.0,304.2 357.5,303.4 359.1,304.2 360.6,304.9 362.1,303.4 363.6,304.9 365.1,306.4 366.6,307.9 368.1,308.7 369.6,304.9 371.2,301.9 372.7,300.4 374.2,301.9 375.7,303.4 377.2,304.2 378.7,301.9 380.2,298.9 381.7,295.8 383.3,292.8 384.8,289.0 386.3,286.0 387.8,285.3 389.3,287.5 390.8,286.8 392.3,287.5 393.8,288.3 395.4,291.3 396.9,295.1 398.4,296.6 399.9,292.8 401.4,294.3 402.9,296.6 404.4,298.9 405.9,300.4 407.5,296.6 409.0,293.6 410.5,294.3 412.0,295.8 412.5,289.7 414.6,294.0 416.7,299.3 418.9,302.5 421.0,304.6 423.1,302.5 425.3,298.2 427.4,295.0 429.5,298.2 431.7,299.3 433.8,296.1 435.9,291.8 438.1,290.8 440.2,292.9 442.3,295.0 444.5,297.2 446.6,298.2 448.7,296.1 450.9,294.0 453.0,295.0 455.1,296.1 457.3,297.2 459.4,299.3 461.5,299.3 463.7,298.2 465.8,296.1 467.9,295.0 470.1,297.2 472.2,299.3 474.3,296.1 476.5,292.9 478.6,289.7 480.8,291.8 482.9,297.2 485.0,301.4 487.2,301.4 489.3,298.2 491.4,294.0 493.6,292.9 495.7,297.2 497.8,299.3 500.0,296.1 502.1,299.3 504.2,300.4 506.4,301.4 508.5,300.4 510.6,296.1 512.8,291.8 514.9,295.0 517.0,296.1 519.2,300.4 521.7,302.5" fill="none" stroke="#7767b0" stroke-width="1.25" stroke-linejoin="round"/>
</g>
<text x="408.3" y="207.5" font-size="10.7" text-anchor="middle">stairway_to_melon_01 from scratch</text>
<text x="408.3" y="360.4" font-size="8.2" text-anchor="middle" textLength="34" lengthAdjust="spacingAndGlyphs">Timestep</text>
<text x="520.9" y="357.4" font-size="4.8" text-anchor="end">1e7</text>
<text transform="translate(281.2,277.1) rotate(-90)" font-size="8.2" text-anchor="middle" textLength="20.8" lengthAdjust="spacingAndGlyphs">Score</text>
<line x1="563.3" y1="344.10" x2="790.4" y2="344.10" stroke="#dedede" stroke-width="0.9"/>
<text transform="translate(559.1,345.70) scale(0.88,1)" font-size="6.0" text-anchor="end">0</text>
<line x1="563.3" y1="327.35" x2="790.4" y2="327.35" stroke="#dedede" stroke-width="0.9"/>
<text transform="translate(559.1,328.95) scale(0.88,1)" font-size="6.0" text-anchor="end">2</text>
<line x1="563.3" y1="310.60" x2="790.4" y2="310.60" stroke="#dedede" stroke-width="0.9"/>
<text transform="translate(559.1,312.20) scale(0.88,1)" font-size="6.0" text-anchor="end">4</text>
<line x1="563.3" y1="293.85" x2="790.4" y2="293.85" stroke="#dedede" stroke-width="0.9"/>
<text transform="translate(559.1,295.45) scale(0.88,1)" font-size="6.0" text-anchor="end">6</text>
<line x1="563.3" y1="277.10" x2="790.4" y2="277.10" stroke="#dedede" stroke-width="0.9"/>
<text transform="translate(559.1,278.70) scale(0.88,1)" font-size="6.0" text-anchor="end">8</text>
<line x1="563.3" y1="260.35" x2="790.4" y2="260.35" stroke="#dedede" stroke-width="0.9"/>
<text transform="translate(559.1,261.95) scale(0.88,1)" font-size="6.0" text-anchor="end">10</text>
<line x1="563.3" y1="243.60" x2="790.4" y2="243.60" stroke="#dedede" stroke-width="0.9"/>
<text transform="translate(559.1,245.20) scale(0.88,1)" font-size="6.0" text-anchor="end">12</text>
<line x1="563.3" y1="226.85" x2="790.4" y2="226.85" stroke="#dedede" stroke-width="0.9"/>
<text transform="translate(559.1,228.45) scale(0.88,1)" font-size="6.0" text-anchor="end">14</text>
<line x1="563.3" y1="210.10" x2="790.4" y2="210.10" stroke="#dedede" stroke-width="0.9"/>
<text transform="translate(559.1,211.70) scale(0.88,1)" font-size="6.0" text-anchor="end">16</text>
<line x1="563.30" y1="210.1" x2="563.30" y2="344.1" stroke="#dedede" stroke-width="0.9"/>
<text transform="translate(563.30,351.1) scale(0.88,1)" font-size="6.0" text-anchor="middle">0</text>
<line x1="620.07" y1="210.1" x2="620.07" y2="344.1" stroke="#dedede" stroke-width="0.9"/>
<text transform="translate(620.07,351.1) scale(0.88,1)" font-size="6.0" text-anchor="middle">1</text>
<line x1="676.85" y1="210.1" x2="676.85" y2="344.1" stroke="#dedede" stroke-width="0.9"/>
<text transform="translate(676.85,351.1) scale(0.88,1)" font-size="6.0" text-anchor="middle">2</text>
<line x1="733.62" y1="210.1" x2="733.62" y2="344.1" stroke="#dedede" stroke-width="0.9"/>
<text transform="translate(733.62,351.1) scale(0.88,1)" font-size="6.0" text-anchor="middle">3</text>
<line x1="790.40" y1="210.1" x2="790.40" y2="344.1" stroke="#dedede" stroke-width="0.9"/>
<text transform="translate(790.40,351.1) scale(0.88,1)" font-size="6.0" text-anchor="middle">4</text>
<rect x="563.3" y="210.1" width="227.1" height="134.0" fill="none" stroke="#dedede" stroke-width="1"/>
<clipPath id="clip12"><rect x="563.3" y="210.1" width="227.1" height="134.0"/></clipPath>
<g clip-path="url(#clip12)">
<polygon points="568.5,330.7 572.7,323.2 578.1,312.5 582.4,304.0 586.6,299.7 590.9,297.6 595.2,297.6 599.4,291.2 603.7,284.8 608.0,282.7 612.2,280.5 616.5,278.4 620.8,280.5 625.1,284.8 629.3,276.2 633.6,276.2 637.9,278.4 642.1,278.4 646.4,276.2 650.7,274.1 655.0,276.2 659.2,276.2 663.5,274.1 667.8,274.1 672.0,272.0 676.3,269.8 681.6,276.9 690.1,271.6 698.7,266.2 707.2,264.1 715.8,264.1 724.3,264.1 732.9,265.2 739.3,259.8 745.7,259.8 752.1,259.8 756.3,263.0 760.6,268.4 764.9,268.4 771.3,264.1 779.8,259.8 790.5,262.0 790.5,279.1 779.8,276.9 771.3,279.1 767.0,285.5 762.7,291.9 760.6,287.6 756.3,279.1 752.1,276.9 745.7,276.9 739.3,276.9 732.9,279.1 724.3,279.1 715.8,279.1 707.2,279.1 698.7,281.2 690.1,285.5 684.8,296.1 682.7,301.5 681.6,296.1 676.3,289.1 672.0,291.2 667.8,291.2 663.5,295.5 660.3,299.7 657.1,293.3 652.8,293.3 648.5,293.3 644.3,295.5 640.0,295.5 635.7,293.3 631.5,293.3 627.2,299.7 624.0,306.1 620.8,299.7 616.5,297.6 612.2,299.7 608.0,304.0 603.7,306.1 599.4,312.5 597.3,317.9 595.2,314.7 590.9,314.7 586.6,316.8 582.4,319.0 578.1,323.2 572.7,329.6 568.5,335.0" fill="#4a68b4" fill-opacity="0.2"/>
<polygon points="568.5,330.7 572.7,321.1 578.1,308.3 582.4,295.5 586.6,289.1 590.9,286.9 595.2,289.1 599.4,284.8 603.7,278.4 608.0,276.2 612.2,272.0 616.5,274.1 620.8,276.2 625.1,274.1 629.3,276.2 633.6,274.1 637.9,274.1 642.1,272.0 646.4,265.6 650.7,267.7 655.0,267.7 659.2,269.8 663.5,267.7 667.8,267.7 672.0,265.6 676.3,263.4 681.6,266.2 690.1,270.5 694.4,272.7 698.7,264.1 707.2,262.0 715.8,260.9 724.3,258.8 732.9,255.6 739.3,253.4 745.7,257.7 752.1,257.7 758.5,256.6 767.0,256.6 775.6,255.6 782.0,252.4 790.5,253.4 790.5,271.6 782.0,270.5 775.6,272.7 767.0,274.8 758.5,276.9 752.1,279.1 745.7,276.9 737.1,274.8 728.6,279.1 722.2,286.5 715.8,281.2 707.2,279.1 696.6,285.5 692.3,292.9 690.1,289.7 681.6,283.3 676.3,282.7 672.0,282.7 667.8,284.8 663.5,286.9 659.2,289.1 655.0,286.9 650.7,286.9 646.4,282.7 642.1,291.2 637.9,291.2 633.6,293.3 629.3,299.7 625.1,293.3 620.8,297.6 616.5,295.5 612.2,291.2 608.0,293.3 603.7,295.5 599.4,301.9 595.2,306.1 590.9,301.9 586.6,304.0 582.4,308.3 578.1,319.0 572.7,327.5 568.5,335.0" fill="#34aa66" fill-opacity="0.2"/>
<polygon points="568.5,330.7 572.7,319.0 575.9,306.1 580.2,293.3 584.5,291.2 588.8,282.7 593.0,272.0 597.3,257.0 601.6,252.8 605.8,250.6 610.1,248.5 614.4,248.5 618.7,244.2 622.9,239.9 627.2,239.9 631.5,235.7 635.7,237.8 640.0,239.9 644.3,242.1 648.5,239.9 652.8,239.9 657.1,242.1 661.4,244.2 665.6,237.8 669.9,237.8 674.2,233.5 678.4,229.3 681.6,232.1 685.9,236.4 690.1,232.1 694.4,238.5 698.7,227.8 703.0,232.1 707.2,236.4 711.5,227.8 715.8,232.1 720.0,240.6 724.3,238.5 728.6,236.4 732.9,229.9 737.1,232.1 741.4,232.1 745.7,229.9 749.9,236.4 754.2,236.4 758.5,232.1 762.7,229.9 767.0,232.1 771.3,236.4 775.6,234.2 779.8,227.8 784.1,229.9 788.4,227.8 790.5,229.9 790.5,269.4 788.4,270.5 784.1,268.4 779.8,270.5 775.6,272.7 771.3,270.5 767.0,272.7 762.7,274.8 758.5,272.7 754.2,270.5 749.9,271.6 745.7,270.5 741.4,268.4 737.1,269.4 732.9,268.4 728.6,270.5 724.3,272.7 720.0,271.6 715.8,271.6 711.5,270.5 707.2,269.4 703.0,268.4 698.7,268.4 694.4,270.5 690.1,272.7 685.9,270.5 681.6,272.7 678.4,272.0 674.2,274.1 669.9,276.2 665.6,278.4 661.4,282.7 657.1,280.5 652.8,276.2 648.5,278.4 644.3,278.4 640.0,280.5 635.7,278.4 631.5,276.2 627.2,278.4 622.9,280.5 618.7,280.5 614.4,282.7 610.1,284.8 605.8,286.9 601.6,286.9 597.3,289.1 593.0,295.5 588.8,304.0 584.5,308.3 580.2,310.4 575.9,321.1 572.7,329.6 568.5,335.0" fill="#e6385c" fill-opacity="0.2"/>
<polygon points="568.5,330.7 572.7,321.1 578.1,308.3 582.4,297.6 586.6,291.2 590.9,284.8 595.2,280.5 599.4,278.4 603.7,274.1 608.0,272.0 612.2,269.8 616.5,269.8 620.8,267.7 625.1,265.6 629.3,259.2 633.6,261.3 637.9,259.2 642.1,257.0 646.4,254.9 650.7,257.0 655.0,257.0 659.2,257.0 663.5,250.6 667.8,248.5 672.0,252.8 676.3,254.9 681.6,247.0 690.1,247.0 698.7,242.8 707.2,247.0 715.8,249.2 724.3,244.9 730.7,240.6 735.0,236.4 739.3,240.6 745.7,236.4 752.1,242.8 758.5,242.8 762.7,238.5 769.2,240.6 775.6,238.5 779.8,236.4 786.2,238.5 790.5,240.6 790.5,272.7 786.2,272.7 779.8,270.5 775.6,272.7 769.2,274.8 762.7,272.7 758.5,276.9 752.1,274.8 745.7,270.5 739.3,272.7 735.0,270.5 730.7,272.7 724.3,276.9 715.8,279.1 707.2,279.1 698.7,276.9 690.1,279.1 681.6,279.1 676.3,278.4 672.0,280.5 667.8,280.5 663.5,282.7 659.2,284.8 655.0,282.7 650.7,282.7 646.4,284.8 642.1,286.9 637.9,284.8 633.6,286.9 629.3,284.8 625.1,289.1 620.8,291.2 616.5,293.3 612.2,291.2 608.0,291.2 603.7,293.3 599.4,297.6 595.2,299.7 590.9,304.0 586.6,306.1 582.4,312.5 578.1,319.0 572.7,327.5 568.5,335.0" fill="#8070b8" fill-opacity="0.2"/>
<polyline points="568.5,332.8 570.6,330.7 572.7,326.4 574.9,322.2 577.0,319.0 579.1,315.7 581.3,312.5 583.4,310.4 585.6,309.3 587.7,308.3 589.8,307.2 592.0,306.1 594.1,307.2 596.2,308.3 598.4,305.1 600.5,299.7 602.6,296.5 604.8,294.4 606.9,293.3 609.0,292.3 611.2,290.1 613.3,288.0 615.4,286.9 617.6,289.1 619.7,291.2 621.9,293.3 624.0,296.5 626.1,291.2 628.3,286.9 630.4,283.7 632.5,283.7 634.7,284.8 636.8,285.9 638.9,286.9 641.1,288.0 643.2,286.9 645.3,285.9 647.5,284.8 649.6,282.7 651.7,283.7 653.9,285.9 656.0,284.8 658.2,283.7 660.3,286.9 662.4,284.8 664.6,282.7 666.7,281.6 668.8,282.7 671.0,281.6 673.1,282.7 675.2,280.5 677.4,279.4 679.5,281.6 681.6,284.4 682.7,287.6 683.7,284.4 685.9,279.1 688.0,276.9 690.1,278.0 692.3,279.1 694.4,276.9 696.6,274.8 698.7,272.7 700.8,271.6 703.0,270.5 705.1,269.4 707.2,270.5 709.4,271.6 711.5,270.5 713.6,268.4 715.8,269.4 717.9,271.6 720.0,272.7 722.2,271.6 724.3,270.5 726.4,270.1 728.6,269.4 730.7,270.5 732.9,270.9 735.0,270.1 737.1,268.4 739.3,266.2 741.4,267.3 743.5,265.2 745.7,266.2 747.8,268.4 749.9,267.3 752.1,266.2 754.2,268.4 756.3,270.5 758.5,274.8 760.6,280.1 762.7,283.3 764.9,280.1 767.0,275.9 769.2,272.7 771.3,270.5 773.4,269.4 775.6,268.4 777.7,267.3 779.8,266.2 782.0,267.3 784.1,269.4 786.2,271.6 788.4,270.5 790.5,268.4" fill="none" stroke="#4a66a6" stroke-width="1.25" stroke-linejoin="round" stroke-dasharray="2.2,1.6"/>
<polyline points="568.5,332.8 570.6,329.6 572.7,324.3 574.9,319.0 577.0,313.6 579.1,309.3 581.3,305.1 583.4,301.9 585.6,298.7 587.7,296.5 589.8,294.4 592.0,295.5 594.1,297.6 596.2,299.7 598.4,295.5 600.5,291.2 602.6,288.0 604.8,285.9 606.9,284.8 609.0,283.7 611.2,281.6 613.3,279.4 615.4,280.5 617.6,284.8 619.7,286.9 621.9,285.9 624.0,284.8 626.1,282.7 628.3,286.9 630.4,289.1 632.5,284.8 634.7,281.6 636.8,282.7 638.9,283.7 641.1,282.7 643.2,280.5 645.3,276.2 647.5,272.0 649.6,275.2 651.7,279.4 653.9,277.3 656.0,276.2 658.2,275.2 660.3,278.4 662.4,277.3 664.6,275.2 666.7,276.2 668.8,277.3 671.0,275.2 673.1,273.0 675.2,274.1 677.4,270.9 679.5,269.8 681.6,274.8 683.7,273.7 685.9,272.7 688.0,275.9 690.1,280.1 692.3,283.3 694.4,282.3 696.6,276.9 698.7,273.7 700.8,272.7 703.0,270.5 705.1,269.4 707.2,268.4 709.4,267.3 711.5,268.4 713.6,267.3 715.8,268.4 717.9,267.3 720.0,266.2 722.2,265.8 724.3,265.2 726.4,264.5 728.6,264.1 730.7,263.7 732.9,263.0 735.0,262.0 737.1,260.9 739.3,259.8 741.4,263.0 743.5,265.2 745.7,266.2 747.8,267.3 749.9,268.4 752.1,266.2 754.2,263.0 756.3,263.0 758.5,264.1 760.6,263.0 762.7,264.1 764.9,265.2 767.0,264.1 769.2,263.0 771.3,263.0 773.4,264.1 775.6,262.0 777.7,260.9 779.8,259.8 782.0,258.8 784.1,260.9 786.2,259.8 788.4,258.8 790.5,259.8" fill="none" stroke="#2a9c62" stroke-width="1.25" stroke-linejoin="round"/>
<polyline points="568.5,332.8 570.6,329.6 572.7,323.2 574.9,312.5 577.0,306.1 579.1,300.8 581.3,299.7 583.4,300.8 585.6,299.7 587.7,295.5 589.8,290.1 592.0,284.8 594.1,279.4 596.2,274.1 598.4,272.0 600.5,270.9 602.6,269.8 604.8,270.9 606.9,268.8 609.0,267.7 611.2,266.6 613.3,267.7 615.4,266.6 617.6,265.6 619.7,264.5 621.9,262.4 624.0,263.4 626.1,262.4 628.3,261.3 630.4,259.2 632.5,257.0 634.7,259.2 636.8,262.4 638.9,264.5 641.1,263.4 643.2,262.4 645.3,261.3 647.5,260.2 649.6,260.2 651.7,261.3 653.9,262.4 656.0,263.4 658.2,264.5 660.3,265.6 662.4,262.4 664.6,260.2 666.7,259.2 668.8,258.1 671.0,259.2 673.1,257.0 675.2,254.9 677.4,252.8 679.5,256.0 681.6,257.7 683.7,258.8 685.9,259.8 688.0,259.8 690.1,259.8 692.3,260.9 694.4,259.8 696.6,257.7 698.7,254.5 700.8,253.0 703.0,253.4 705.1,257.7 707.2,256.6 709.4,253.9 711.5,253.0 713.6,253.4 715.8,256.6 717.9,259.8 720.0,260.9 722.2,259.8 724.3,259.4 726.4,259.8 728.6,258.8 730.7,256.6 732.9,254.5 735.0,255.6 737.1,257.7 739.3,259.8 741.4,258.8 743.5,257.7 745.7,258.8 747.8,260.9 749.9,259.8 752.1,256.6 754.2,255.6 756.3,257.7 758.5,258.8 760.6,256.6 762.7,253.4 764.9,254.5 767.0,256.6 769.2,257.7 771.3,256.6 773.4,257.7 775.6,258.8 777.7,256.6 779.8,253.4 782.0,252.4 784.1,254.5 786.2,255.6 788.4,253.4 790.5,254.5" fill="none" stroke="#d83c5a" stroke-width="1.25" stroke-linejoin="round"/>
<polyline points="568.5,332.8 570.6,329.6 572.7,324.3 574.9,319.0 577.0,314.7 579.1,310.4 581.3,307.2 583.4,304.0 585.6,300.8 587.7,298.7 589.8,296.5 592.0,293.3 594.1,291.2 596.2,289.1 598.4,288.0 600.5,286.9 602.6,284.8 604.8,282.7 606.9,282.7 609.0,280.5 611.2,279.4 613.3,280.5 615.4,282.7 617.6,280.5 619.7,279.4 621.9,278.4 624.0,277.3 626.1,276.2 628.3,274.1 630.4,270.9 632.5,273.0 634.7,274.1 636.8,270.9 638.9,269.8 641.1,273.0 643.2,275.2 645.3,272.0 647.5,269.8 649.6,267.7 651.7,268.8 653.9,269.8 656.0,268.8 658.2,269.8 660.3,272.0 662.4,270.9 664.6,267.7 666.7,264.5 668.8,265.6 671.0,266.6 673.1,267.7 675.2,265.6 677.4,264.5 679.5,265.6 681.6,262.0 683.7,259.8 685.9,260.9 688.0,262.0 690.1,263.0 692.3,262.0 694.4,263.0 696.6,264.1 698.7,262.0 700.8,259.8 703.0,258.8 705.1,259.8 707.2,262.0 709.4,264.1 711.5,263.0 713.6,264.1 715.8,263.0 717.9,262.0 720.0,260.9 722.2,258.8 724.3,257.7 726.4,256.6 728.6,255.6 730.7,253.4 732.9,251.3 735.0,249.2 737.1,252.4 739.3,255.6 741.4,253.4 743.5,250.2 745.7,248.1 747.8,249.2 749.9,252.4 752.1,255.6 754.2,258.8 756.3,257.7 758.5,257.7 760.6,254.5 762.7,250.2 764.9,249.2 767.0,250.2 769.2,252.4 771.3,249.2 773.4,250.2 775.6,252.4 777.7,249.2 779.8,247.0 782.0,247.0 784.1,248.1 786.2,249.2 788.4,250.2 790.5,251.3" fill="none" stroke="#7767b0" stroke-width="1.25" stroke-linejoin="round"/>
</g>
<text x="676.8" y="207.5" font-size="10.7" text-anchor="middle">stairway_to_melon_01 to seekavoid_arena_01</text>
<text x="676.8" y="360.4" font-size="8.2" text-anchor="middle" textLength="34" lengthAdjust="spacingAndGlyphs">Timestep</text>
<text x="789.2" y="357.4" font-size="4.8" text-anchor="end">1e7</text>
<text transform="translate(550.0,277.1) rotate(-90)" font-size="8.2" text-anchor="middle" textLength="20.8" lengthAdjust="spacingAndGlyphs">Score</text>
<line x1="26.3" y1="512.25" x2="253.4" y2="512.25" stroke="#dedede" stroke-width="0.9"/>
<text transform="translate(22.1,513.85) scale(0.88,1)" font-size="6.0" text-anchor="end">−12</text>
<line x1="26.3" y1="492.99" x2="253.4" y2="492.99" stroke="#dedede" stroke-width="0.9"/>
<text transform="translate(22.1,494.59) scale(0.88,1)" font-size="6.0" text-anchor="end">−10</text>
<line x1="26.3" y1="473.74" x2="253.4" y2="473.74" stroke="#dedede" stroke-width="0.9"/>
<text transform="translate(22.1,475.34) scale(0.88,1)" font-size="6.0" text-anchor="end">−8</text>
<line x1="26.3" y1="454.48" x2="253.4" y2="454.48" stroke="#dedede" stroke-width="0.9"/>
<text transform="translate(22.1,456.08) scale(0.88,1)" font-size="6.0" text-anchor="end">−6</text>
<line x1="26.3" y1="435.22" x2="253.4" y2="435.22" stroke="#dedede" stroke-width="0.9"/>
<text transform="translate(22.1,436.82) scale(0.88,1)" font-size="6.0" text-anchor="end">−4</text>
<line x1="26.3" y1="415.96" x2="253.4" y2="415.96" stroke="#dedede" stroke-width="0.9"/>
<text transform="translate(22.1,417.56) scale(0.88,1)" font-size="6.0" text-anchor="end">−2</text>
<line x1="26.3" y1="396.71" x2="253.4" y2="396.71" stroke="#dedede" stroke-width="0.9"/>
<text transform="translate(22.1,398.31) scale(0.88,1)" font-size="6.0" text-anchor="end">0</text>
<line x1="26.3" y1="377.45" x2="253.4" y2="377.45" stroke="#dedede" stroke-width="0.9"/>
<text transform="translate(22.1,379.05) scale(0.88,1)" font-size="6.0" text-anchor="end">2</text>
<line x1="26.30" y1="377.4" x2="26.30" y2="512.2" stroke="#dedede" stroke-width="0.9"/>
<text transform="translate(26.30,519.2) scale(0.88,1)" font-size="6.0" text-anchor="middle">0</text>
<line x1="83.08" y1="377.4" x2="83.08" y2="512.2" stroke="#dedede" stroke-width="0.9"/>
<text transform="translate(83.08,519.2) scale(0.88,1)" font-size="6.0" text-anchor="middle">1</text>
<line x1="139.85" y1="377.4" x2="139.85" y2="512.2" stroke="#dedede" stroke-width="0.9"/>
<text transform="translate(139.85,519.2) scale(0.88,1)" font-size="6.0" text-anchor="middle">2</text>
<line x1="196.62" y1="377.4" x2="196.62" y2="512.2" stroke="#dedede" stroke-width="0.9"/>
<text transform="translate(196.62,519.2) scale(0.88,1)" font-size="6.0" text-anchor="middle">3</text>
<line x1="253.40" y1="377.4" x2="253.40" y2="512.2" stroke="#dedede" stroke-width="0.9"/>
<text transform="translate(253.40,519.2) scale(0.88,1)" font-size="6.0" text-anchor="middle">4</text>
<rect x="26.3" y="377.4" width="227.1" height="134.8" fill="none" stroke="#dedede" stroke-width="1"/>
<clipPath id="clip20"><rect x="26.3" y="377.4" width="227.1" height="134.8"/></clipPath>
<g clip-path="url(#clip20)">
<polygon points="35.5,480.3 37.6,444.0 40.8,431.2 45.1,424.8 49.3,424.8 53.6,433.3 57.9,424.8 62.1,420.5 66.4,416.3 70.7,418.4 74.9,414.1 79.2,409.9 83.5,407.7 87.7,403.5 92.0,399.2 98.4,403.5 104.8,405.6 111.2,407.7 117.6,412.0 121.9,405.6 128.3,403.5 134.7,399.2 138.9,392.8 141.1,392.8 143.2,393.4 146.9,396.3 151.4,400.8 154.3,409.7 157.3,408.2 160.3,399.3 163.2,394.8 166.2,393.4 170.7,396.3 175.1,394.8 179.6,396.3 184.0,397.8 188.5,399.3 192.9,397.8 197.4,393.4 201.8,393.4 206.3,394.8 210.7,396.3 215.2,397.8 219.6,396.3 224.1,397.8 228.5,399.3 233.0,397.8 237.4,396.3 241.9,397.8 246.4,400.8 250.1,400.8 250.1,411.2 246.4,414.1 241.9,411.2 237.4,409.7 233.0,411.2 228.5,412.7 224.1,409.7 219.6,409.7 215.2,409.7 210.7,408.2 206.3,406.7 201.8,406.7 197.4,411.2 192.9,417.1 188.5,412.7 184.0,412.7 179.6,411.2 175.1,408.2 170.7,411.2 166.2,406.7 163.2,409.7 160.3,415.6 157.3,430.5 155.1,440.9 153.6,436.4 151.4,424.5 146.9,417.1 143.2,415.6 141.1,407.7 138.9,407.7 134.7,416.3 128.3,420.5 121.9,422.7 116.5,435.5 111.2,429.1 104.8,424.8 98.4,422.7 92.0,418.4 87.7,422.7 83.5,426.9 79.2,433.3 74.9,435.5 70.7,441.9 66.4,437.6 62.1,444.0 58.9,450.4 55.7,469.6 53.6,473.9 49.3,456.8 45.1,469.6 42.9,476.0 40.8,456.8 37.6,471.7 35.5,499.5" fill="#4a68b4" fill-opacity="0.2"/>
<polygon points="35.5,478.1 38.7,437.6 42.9,424.8 47.2,418.4 51.5,412.0 55.7,407.7 60.0,414.1 64.3,414.1 70.7,407.7 77.1,409.9 83.5,414.1 89.9,412.0 96.3,418.4 102.7,420.5 109.1,414.1 115.5,409.9 121.9,403.5 128.3,405.6 134.7,401.3 141.1,412.0 143.2,415.6 146.9,412.7 151.4,408.2 155.8,406.7 160.3,409.7 164.7,412.7 169.2,411.2 173.6,406.7 178.1,409.7 182.5,406.7 187.0,402.3 191.4,405.2 194.4,408.2 198.9,406.7 203.3,409.7 207.8,411.2 212.2,405.2 216.7,405.2 221.1,403.7 225.6,397.8 230.0,397.8 234.5,399.3 238.9,403.7 243.4,403.7 247.8,402.3 250.1,402.3 250.1,412.7 247.8,414.1 243.4,415.6 238.9,417.1 234.5,412.7 230.0,412.7 225.6,412.7 221.1,418.6 218.2,421.6 213.7,418.6 209.2,423.0 205.5,427.5 201.8,421.6 197.4,427.5 195.1,436.4 191.4,423.0 187.0,417.1 182.5,421.6 178.1,421.6 173.6,420.1 169.2,427.5 164.7,427.5 160.3,427.5 155.8,421.6 151.4,423.0 148.4,427.5 145.4,430.5 143.2,431.9 141.1,429.1 134.7,416.3 128.3,420.5 121.9,422.7 115.5,426.9 109.1,431.2 104.8,439.7 100.5,441.9 96.3,435.5 92.0,437.6 85.6,429.1 81.3,435.5 77.1,426.9 70.7,426.9 64.3,433.3 60.0,431.2 55.7,426.9 51.5,433.3 47.2,439.7 42.9,444.0 38.7,452.5 35.5,482.4" fill="#34aa66" fill-opacity="0.2"/>
<polygon points="35.5,465.3 37.6,422.7 39.7,410.9 42.9,414.1 47.2,407.7 51.5,399.2 55.7,397.1 60.0,394.9 62.1,397.1 66.4,403.5 70.7,409.9 74.9,409.9 79.2,403.5 83.5,399.2 89.9,397.1 96.3,399.2 102.7,399.2 109.1,397.1 115.5,399.2 119.7,403.5 124.0,409.9 130.4,403.5 134.7,394.9 141.1,397.1 143.2,402.3 146.9,399.3 151.4,402.3 155.8,396.3 160.3,396.3 164.7,403.7 169.2,402.3 173.6,405.2 178.1,409.7 182.5,411.2 187.0,405.2 191.4,402.3 195.9,394.8 200.3,391.9 204.8,396.3 209.2,402.3 213.7,405.2 218.2,400.8 222.6,399.3 227.1,402.3 231.5,405.2 236.0,403.7 240.4,400.8 244.9,403.7 250.1,405.2 250.1,421.6 244.9,418.6 240.4,417.1 236.0,420.1 231.5,421.6 227.1,421.6 222.6,415.6 218.2,418.6 213.7,421.6 209.2,417.1 204.8,414.1 200.3,409.7 195.9,415.6 191.4,420.1 187.0,424.5 182.5,430.5 178.1,426.0 173.6,420.1 169.2,420.1 164.7,421.6 160.3,414.1 155.8,417.1 151.4,420.1 146.9,420.1 143.2,420.1 141.1,412.0 134.7,409.9 130.4,418.4 124.0,426.9 119.7,414.1 115.5,414.1 109.1,416.3 102.7,414.1 96.3,414.1 89.9,409.9 83.5,412.0 79.2,429.1 76.0,448.3 73.9,458.9 72.8,450.4 70.7,439.7 67.5,431.2 64.3,422.7 60.0,416.3 55.7,416.3 51.5,420.5 47.2,426.9 42.9,439.7 39.7,435.5 37.6,444.0 35.5,473.9" fill="#e6385c" fill-opacity="0.2"/>
<polygon points="35.5,473.9 38.7,439.7 42.9,422.7 47.2,420.5 51.5,422.7 55.7,422.7 60.0,418.4 64.3,405.6 68.5,403.5 72.8,401.3 77.1,405.6 81.3,403.5 85.6,399.2 89.9,397.1 96.3,399.2 102.7,403.5 109.1,403.5 115.5,403.5 121.9,403.5 128.3,401.3 134.7,399.2 141.1,401.3 143.2,406.7 146.9,405.2 151.4,405.2 155.8,403.7 160.3,403.7 164.7,397.8 167.7,397.8 172.1,406.7 176.6,408.2 181.0,406.7 185.5,399.3 189.9,393.4 194.4,397.8 198.9,397.8 203.3,393.4 207.8,397.8 212.2,409.7 216.7,415.6 221.1,414.1 225.6,408.2 230.0,409.7 234.5,409.7 238.9,403.7 242.6,393.4 245.6,396.3 250.1,402.3 250.1,418.6 245.6,414.1 242.6,408.2 238.9,421.6 234.5,429.0 230.0,434.9 225.6,426.0 222.6,431.9 219.6,443.8 217.4,449.8 215.2,442.3 212.2,431.9 207.8,418.6 203.3,409.7 198.9,412.7 194.4,414.1 189.9,412.7 185.5,415.6 181.0,420.1 176.6,423.0 172.1,420.1 167.7,412.7 164.7,414.1 160.3,418.6 155.8,418.6 151.4,420.1 146.9,418.6 143.2,421.6 141.1,420.5 134.7,414.1 128.3,416.3 121.9,420.5 115.5,420.5 109.1,420.5 102.7,418.4 96.3,416.3 89.9,412.0 85.6,416.3 81.3,420.5 77.1,422.7 72.8,416.3 68.5,420.5 64.3,426.9 60.0,437.6 55.7,444.0 51.5,441.9 47.2,439.7 42.9,441.9 38.7,456.8 35.5,480.3" fill="#8070b8" fill-opacity="0.2"/>
<polyline points="35.5,484.5 36.5,467.5 37.6,452.5 39.7,441.9 41.9,436.5 44.0,435.5 46.1,434.4 48.3,434.4 50.4,437.6 52.5,444.0 53.6,450.4 54.7,446.1 56.8,439.7 58.9,435.5 61.1,431.2 63.2,428.0 65.3,425.9 67.5,426.9 69.6,430.1 71.7,426.9 73.9,424.8 76.0,422.7 78.1,420.5 80.3,418.4 82.4,417.3 84.5,415.2 86.7,414.1 88.8,409.9 90.9,407.7 93.1,408.8 95.2,409.9 97.3,413.1 99.5,412.0 101.6,410.9 103.7,413.1 105.9,415.2 108.0,417.3 110.1,418.4 112.3,417.3 114.4,420.5 116.5,423.7 118.7,420.5 120.8,416.3 122.9,412.0 125.1,409.9 127.2,412.0 129.3,413.1 131.5,412.0 133.6,409.9 135.7,407.7 137.9,401.3 140.0,397.1 143.2,403.7 145.4,406.0 147.6,407.5 149.9,411.2 152.1,417.1 153.6,423.0 155.1,425.3 156.6,420.1 158.8,414.9 161.0,406.0 163.2,402.3 165.5,398.6 167.7,398.6 169.9,402.3 172.1,404.5 174.4,402.3 176.6,400.8 178.8,403.7 181.0,406.7 183.3,405.2 185.5,404.5 187.7,406.0 189.9,409.7 192.2,408.2 194.4,404.5 196.6,402.3 198.9,400.8 201.1,399.3 203.3,399.3 205.5,400.0 207.8,400.8 210.0,402.3 212.2,403.7 214.4,403.7 216.7,403.7 218.9,403.0 221.1,402.3 223.3,403.7 225.6,406.0 227.8,406.7 230.0,406.0 232.3,403.7 234.5,402.3 236.7,403.7 238.9,402.3 241.2,403.7 243.4,406.0 245.6,408.2 247.8,408.9 250.1,406.0" fill="none" stroke="#4a66a6" stroke-width="1.25" stroke-linejoin="round" stroke-dasharray="2.2,1.6"/>
<polyline points="35.5,480.3 36.5,465.3 37.6,452.5 38.7,444.0 39.7,438.7 40.8,435.5 42.9,433.3 45.1,429.1 47.2,425.9 49.3,422.7 51.5,419.5 53.6,417.3 55.7,416.3 57.9,417.3 60.0,421.6 62.1,424.8 64.3,422.7 66.4,419.5 68.5,417.3 70.7,416.3 72.8,418.4 74.9,416.3 77.1,417.3 79.2,421.6 81.3,424.8 83.5,422.7 85.6,418.4 87.7,417.3 89.9,418.4 92.0,421.6 94.1,424.8 96.3,426.9 98.4,430.1 100.5,431.2 102.7,430.1 104.8,428.0 106.9,424.8 109.1,421.6 111.2,419.5 113.3,418.4 115.5,417.3 117.6,416.3 119.7,413.1 121.9,410.9 124.0,410.9 126.1,412.0 128.3,413.1 130.4,412.0 132.5,409.9 134.7,407.7 136.8,408.8 138.9,414.1 141.1,420.5 143.2,424.5 145.4,423.0 147.6,420.1 149.9,417.1 152.1,414.1 154.3,412.7 156.6,413.4 158.8,417.1 161.0,419.3 163.2,420.1 165.5,419.3 167.7,420.1 169.9,418.6 172.1,415.6 174.4,413.4 176.6,414.9 178.8,416.4 181.0,415.6 183.3,414.1 185.5,411.9 187.7,409.7 189.9,410.4 192.2,414.9 194.4,419.3 196.6,418.6 198.9,414.1 201.1,413.4 203.3,416.4 205.5,420.1 207.8,419.3 210.0,416.4 212.2,411.9 214.4,410.4 216.7,411.9 218.9,413.4 221.1,411.9 223.3,408.2 225.6,404.5 227.8,402.3 230.0,403.0 232.3,404.5 234.5,405.2 236.7,407.5 238.9,410.4 241.2,411.2 243.4,409.7 245.6,409.7 247.8,408.2 250.1,406.7" fill="none" stroke="#2a9c62" stroke-width="1.25" stroke-linejoin="round"/>
<polyline points="35.5,469.6 36.5,450.4 37.6,433.3 38.7,422.7 39.7,420.5 40.8,422.7 41.9,425.9 42.9,428.0 44.0,425.9 45.1,422.7 47.2,416.3 49.3,410.9 51.5,407.7 53.6,405.6 55.7,404.5 57.9,404.5 60.0,405.6 62.1,408.8 64.3,414.1 66.4,421.6 68.5,425.9 70.7,422.7 72.8,417.3 74.9,420.5 77.1,424.8 79.2,416.3 81.3,405.6 83.5,402.4 85.6,403.5 87.7,404.5 89.9,403.5 92.0,402.4 94.1,404.5 96.3,407.7 98.4,409.9 100.5,407.7 102.7,406.7 104.8,405.6 106.9,407.7 109.1,408.8 111.2,406.7 113.3,405.6 115.5,404.5 117.6,404.5 119.7,407.7 121.9,417.3 124.0,418.4 126.1,415.2 128.3,412.0 130.4,409.9 132.5,405.6 134.7,401.3 136.8,401.3 138.9,404.5 141.1,405.6 143.2,411.9 145.4,409.7 147.6,408.9 149.9,411.9 152.1,413.4 154.3,411.9 156.6,408.9 158.8,406.7 161.0,407.5 163.2,410.4 165.5,413.4 167.7,411.9 169.9,408.9 172.1,408.9 174.4,411.9 176.6,416.4 178.8,419.3 181.0,420.8 183.3,420.1 185.5,417.8 187.7,415.6 189.9,413.4 192.2,410.4 194.4,406.7 196.6,404.5 198.9,401.5 201.1,400.8 203.3,402.3 205.5,405.2 207.8,408.2 210.0,410.4 212.2,413.4 214.4,414.9 216.7,412.7 218.9,409.7 221.1,407.5 223.3,406.7 225.6,408.9 227.8,411.9 230.0,414.1 232.3,414.1 234.5,413.4 236.7,411.9 238.9,408.9 241.2,408.2 243.4,408.9 245.6,410.4 247.8,411.9 250.1,413.4" fill="none" stroke="#d83c5a" stroke-width="1.25" stroke-linejoin="round"/>
<polyline points="35.5,476.0 36.5,461.1 37.6,448.3 39.7,437.6 41.9,432.3 44.0,429.1 46.1,430.1 48.3,430.1 50.4,432.3 52.5,431.2 54.7,432.3 56.8,431.2 58.9,429.1 61.1,422.7 63.2,415.2 65.3,412.0 67.5,410.9 69.6,409.9 71.7,407.7 73.9,409.9 76.0,413.1 78.1,415.2 80.3,412.0 82.4,409.9 84.5,407.7 86.7,404.5 88.8,403.5 90.9,404.5 93.1,405.6 95.2,406.7 97.3,408.8 99.5,409.9 101.6,410.9 103.7,410.9 105.9,412.0 108.0,412.0 110.1,412.0 112.3,410.9 114.4,409.9 116.5,412.0 118.7,413.1 120.8,412.0 122.9,410.9 125.1,408.8 127.2,407.7 129.3,407.7 131.5,408.8 133.6,407.7 135.7,406.7 137.9,407.7 140.0,409.9 143.2,413.4 145.4,411.2 147.6,412.7 149.9,414.1 152.1,411.9 154.3,409.7 156.6,409.7 158.8,411.9 161.0,410.4 163.2,406.7 165.5,403.7 167.7,404.5 169.9,408.9 172.1,413.4 174.4,415.6 176.6,414.9 178.8,413.4 181.0,412.7 183.3,411.2 185.5,407.5 187.7,404.5 189.9,403.0 192.2,403.7 194.4,405.2 196.6,406.7 198.9,405.2 201.1,402.3 203.3,400.0 205.5,400.8 207.8,406.0 210.0,412.7 212.2,418.6 214.4,424.5 216.7,426.8 218.9,426.0 221.1,424.5 223.3,420.1 225.6,415.6 227.8,417.1 230.0,420.1 232.3,419.3 234.5,417.8 236.7,416.4 238.9,411.2 241.2,402.3 242.6,397.1 244.1,399.3 245.6,404.5 247.8,408.9 250.1,409.7" fill="none" stroke="#7767b0" stroke-width="1.25" stroke-linejoin="round"/>
</g>
<text x="139.8" y="374.8" font-size="10.7" text-anchor="middle">seekavoid_arena_01 to lt_chasm</text>
<text x="139.8" y="528.5" font-size="8.2" text-anchor="middle" textLength="34" lengthAdjust="spacingAndGlyphs">Timestep</text>
<text x="252.2" y="525.5" font-size="4.8" text-anchor="end">1e7</text>
<text transform="translate(8.5,444.9) rotate(-90)" font-size="8.2" text-anchor="middle" textLength="20.8" lengthAdjust="spacingAndGlyphs">Score</text>
<line x1="294.5" y1="512.25" x2="522.1" y2="512.25" stroke="#dedede" stroke-width="0.9"/>
<text transform="translate(290.3,513.85) scale(0.88,1)" font-size="6.0" text-anchor="end">5</text>
<line x1="294.5" y1="492.99" x2="522.1" y2="492.99" stroke="#dedede" stroke-width="0.9"/>
<text transform="translate(290.3,494.59) scale(0.88,1)" font-size="6.0" text-anchor="end">10</text>
<line x1="294.5" y1="473.74" x2="522.1" y2="473.74" stroke="#dedede" stroke-width="0.9"/>
<text transform="translate(290.3,475.34) scale(0.88,1)" font-size="6.0" text-anchor="end">15</text>
<line x1="294.5" y1="454.48" x2="522.1" y2="454.48" stroke="#dedede" stroke-width="0.9"/>
<text transform="translate(290.3,456.08) scale(0.88,1)" font-size="6.0" text-anchor="end">20</text>
<line x1="294.5" y1="435.22" x2="522.1" y2="435.22" stroke="#dedede" stroke-width="0.9"/>
<text transform="translate(290.3,436.82) scale(0.88,1)" font-size="6.0" text-anchor="end">25</text>
<line x1="294.5" y1="415.96" x2="522.1" y2="415.96" stroke="#dedede" stroke-width="0.9"/>
<text transform="translate(290.3,417.56) scale(0.88,1)" font-size="6.0" text-anchor="end">30</text>
<line x1="294.5" y1="396.71" x2="522.1" y2="396.71" stroke="#dedede" stroke-width="0.9"/>
<text transform="translate(290.3,398.31) scale(0.88,1)" font-size="6.0" text-anchor="end">35</text>
<line x1="294.5" y1="377.45" x2="522.1" y2="377.45" stroke="#dedede" stroke-width="0.9"/>
<text transform="translate(290.3,379.05) scale(0.88,1)" font-size="6.0" text-anchor="end">40</text>
<line x1="294.50" y1="377.4" x2="294.50" y2="512.2" stroke="#dedede" stroke-width="0.9"/>
<text transform="translate(294.50,519.2) scale(0.88,1)" font-size="6.0" text-anchor="middle">0</text>
<line x1="351.40" y1="377.4" x2="351.40" y2="512.2" stroke="#dedede" stroke-width="0.9"/>
<text transform="translate(351.40,519.2) scale(0.88,1)" font-size="6.0" text-anchor="middle">1</text>
<line x1="408.30" y1="377.4" x2="408.30" y2="512.2" stroke="#dedede" stroke-width="0.9"/>
<text transform="translate(408.30,519.2) scale(0.88,1)" font-size="6.0" text-anchor="middle">2</text>
<line x1="465.20" y1="377.4" x2="465.20" y2="512.2" stroke="#dedede" stroke-width="0.9"/>
<text transform="translate(465.20,519.2) scale(0.88,1)" font-size="6.0" text-anchor="middle">3</text>
<line x1="522.10" y1="377.4" x2="522.10" y2="512.2" stroke="#dedede" stroke-width="0.9"/>
<text transform="translate(522.10,519.2) scale(0.88,1)" font-size="6.0" text-anchor="middle">4</text>
<rect x="294.5" y="377.4" width="227.6" height="134.8" fill="none" stroke="#dedede" stroke-width="1"/>
<clipPath id="clip21"><rect x="294.5" y="377.4" width="227.6" height="134.8"/></clipPath>
<g clip-path="url(#clip21)">
<polygon points="299.9,473.3 301.8,479.1 305.7,483.1 309.7,481.1 313.6,481.1 317.5,479.1 321.4,479.1 327.3,477.2 333.1,475.2 337.1,471.3 341.0,455.7 342.9,440.0 345.9,442.0 348.8,440.0 351.7,424.4 353.7,408.7 355.6,416.5 357.6,443.9 360.5,449.8 362.5,434.1 364.4,426.3 366.4,434.1 368.4,449.8 370.3,438.1 372.3,434.1 374.2,440.0 376.2,447.8 378.1,434.1 380.1,428.3 382.1,420.4 384.0,428.3 386.0,430.2 387.9,426.3 389.9,424.4 391.8,428.3 393.8,432.2 395.8,428.3 397.7,434.1 400.7,445.9 403.6,426.3 406.5,434.1 409.5,424.4 412.0,430.2 412.5,429.1 414.6,422.7 416.7,412.0 418.9,401.3 421.0,392.8 423.1,391.7 425.3,390.7 427.4,397.1 429.5,412.0 431.7,409.9 433.8,401.3 435.9,397.1 438.1,392.8 440.2,399.2 442.3,418.4 444.5,405.6 446.6,394.9 448.7,392.8 450.9,397.1 453.0,394.9 455.1,409.9 457.3,407.7 459.4,412.0 461.5,416.3 463.7,409.9 465.8,414.1 467.9,412.0 470.1,416.3 472.2,409.9 474.3,407.7 476.5,418.4 478.6,422.7 480.8,416.3 482.9,412.0 485.0,416.3 487.2,418.4 489.3,420.5 491.4,416.3 493.6,417.3 495.7,412.0 497.8,407.7 500.0,405.6 502.1,401.3 504.2,397.1 506.4,401.3 508.5,399.2 510.6,399.2 512.8,397.1 514.9,394.9 517.0,392.8 519.2,390.7 521.7,392.8 521.7,471.8 519.2,471.8 514.9,471.8 510.6,469.6 506.4,469.6 502.1,469.6 497.8,470.7 493.6,471.8 489.3,471.8 485.0,471.8 480.8,471.8 476.5,473.9 472.2,471.8 467.9,471.8 463.7,471.8 459.4,471.8 455.1,473.9 450.9,473.9 446.6,475.0 442.3,473.9 438.1,473.9 433.8,473.9 429.5,471.8 425.3,473.9 421.0,471.8 416.7,473.9 412.5,476.0 412.0,477.2 407.5,477.2 403.6,479.1 399.7,485.0 395.8,481.1 391.8,481.1 387.9,481.1 384.0,477.2 380.1,473.3 376.2,469.4 372.3,467.4 368.4,469.4 364.4,469.4 360.5,473.3 356.6,471.3 352.7,473.3 348.8,477.2 344.9,479.1 341.0,481.1 337.1,484.0 333.1,485.0 327.3,487.0 321.4,488.0 317.5,488.9 313.6,490.9 309.7,492.8 305.7,494.8 301.8,498.7 299.9,500.7" fill="#4a68b4" fill-opacity="0.2"/>
<polygon points="299.9,488.9 305.7,483.1 311.6,481.1 317.5,479.1 323.4,479.1 329.2,477.2 335.1,479.1 341.0,473.3 344.9,465.4 348.8,459.6 351.7,453.7 353.7,449.8 356.6,455.7 360.5,453.7 364.4,449.8 368.4,443.9 372.3,449.8 376.2,453.7 380.1,459.6 384.0,463.5 387.9,467.4 391.8,465.4 395.8,457.6 399.7,449.8 403.6,449.8 407.5,453.7 412.0,455.7 412.5,454.7 414.6,422.7 416.7,405.6 418.9,397.1 421.0,392.8 423.1,390.7 425.3,391.7 427.4,409.9 429.5,429.1 431.7,418.4 433.8,405.6 435.9,401.3 438.1,399.2 440.2,412.0 442.3,435.5 444.5,422.7 446.6,399.2 448.7,397.1 450.9,403.5 453.0,407.7 455.1,422.7 457.3,412.0 459.4,416.3 461.5,414.1 463.7,407.7 465.8,418.4 467.9,433.3 470.1,433.3 472.2,414.1 474.3,412.0 476.5,422.7 478.6,444.0 480.8,461.1 482.9,469.6 486.1,473.9 490.4,473.9 494.6,473.9 498.9,469.6 502.1,459.0 505.3,471.8 509.6,475.0 513.8,473.9 518.1,469.6 521.7,471.8 521.7,479.2 505.3,480.3 501.0,479.2 490.4,480.3 480.8,480.3 478.6,478.2 476.5,473.9 474.3,469.6 472.2,469.6 470.1,476.0 467.9,479.2 465.8,473.9 463.7,469.6 461.5,469.6 459.4,476.0 457.3,478.2 455.1,476.0 453.0,471.8 450.9,469.6 448.7,469.6 446.6,469.6 444.5,473.9 442.3,478.2 440.2,473.9 438.1,469.6 435.9,469.6 433.8,469.6 431.7,471.8 429.5,473.9 427.4,469.6 425.3,465.4 423.1,465.4 421.0,465.4 418.9,465.4 416.7,469.6 414.6,473.9 412.5,478.2 412.0,477.2 407.5,475.2 403.6,473.3 399.7,475.2 395.8,479.1 391.8,483.1 387.9,485.0 384.0,481.1 380.1,479.1 376.2,475.2 372.3,473.3 368.4,471.3 364.4,471.3 360.5,473.3 356.6,477.2 353.7,473.3 351.7,473.3 348.8,479.1 344.9,481.1 341.0,487.0 335.1,487.0 329.2,487.0 323.4,488.9 317.5,488.9 311.6,490.9 305.7,492.8 299.9,500.7" fill="#8070b8" fill-opacity="0.2"/>
<polygon points="299.9,481.1 303.8,485.0 309.7,481.1 315.5,479.1 321.4,479.1 327.3,477.2 333.1,477.2 339.0,477.2 344.9,478.2 350.7,478.2 354.7,475.2 358.6,469.4 362.5,475.2 368.4,473.3 372.3,469.4 376.2,471.3 380.1,470.3 384.0,469.4 389.9,471.3 395.8,470.3 401.6,469.4 405.5,463.5 409.5,465.4 412.0,465.4 412.5,467.5 416.7,469.6 421.0,473.9 425.3,473.9 429.5,473.9 433.8,473.9 438.1,473.9 442.3,473.9 446.6,476.0 450.9,476.0 455.1,475.0 459.4,476.0 463.7,471.8 467.9,475.0 472.2,473.9 476.5,476.0 480.8,476.0 485.0,473.9 489.3,469.6 493.6,466.4 497.8,469.6 502.1,465.4 506.4,471.8 510.6,473.9 514.9,473.9 519.2,473.9 521.7,473.9 521.7,480.3 519.2,481.4 514.9,482.4 510.6,482.4 506.4,482.4 502.1,482.4 497.8,480.3 493.6,478.2 489.3,480.3 485.0,482.4 481.8,484.6 478.6,492.0 475.4,486.7 472.2,481.4 467.9,481.4 463.7,480.3 459.4,482.4 455.1,482.4 450.9,482.4 446.6,482.4 442.3,482.4 438.1,481.4 433.8,481.4 429.5,482.4 425.3,482.4 421.0,482.4 416.7,481.4 412.5,480.3 412.0,475.2 409.5,475.2 405.5,475.2 401.6,479.1 395.8,481.1 389.9,481.1 384.0,479.1 380.1,481.1 376.2,481.1 372.3,479.1 368.4,481.1 362.5,483.1 358.6,481.1 354.7,481.1 350.7,482.1 344.9,483.1 339.0,487.0 333.1,487.0 327.3,488.9 321.4,490.9 315.5,492.8 309.7,496.8 303.8,498.7 299.9,502.6" fill="#e6385c" fill-opacity="0.2"/>
<polygon points="299.9,488.9 305.7,490.9 311.6,488.9 317.5,485.0 323.4,486.0 329.2,488.9 335.1,488.9 341.0,488.9 344.9,487.0 348.8,483.1 352.7,479.1 356.6,478.2 412.0,478.8 412.5,479.2 421.0,482.4 425.3,481.4 429.5,478.6 433.8,479.2 438.1,481.4 442.3,478.6 450.9,478.6 457.3,479.2 461.5,478.6 469.0,478.2 521.7,477.7 521.7,481.4 486.1,484.6 481.8,482.4 469.0,481.4 463.7,482.4 459.4,486.7 457.3,485.6 450.9,482.0 442.3,483.5 438.1,488.8 435.9,488.8 433.8,486.7 429.5,484.6 425.3,491.0 423.1,494.2 421.0,493.1 416.7,488.8 412.5,484.6 412.0,482.1 360.5,481.1 356.6,482.1 352.7,487.0 348.8,492.8 344.9,498.7 341.0,500.7 335.1,498.7 329.2,496.8 323.4,493.8 317.5,492.8 311.6,494.8 305.7,498.7 299.9,498.7" fill="#34aa66" fill-opacity="0.2"/>
<polyline points="299.9,490.9 300.8,487.0 302.8,488.0 304.8,488.9 306.7,487.0 308.7,485.0 310.6,484.0 312.6,485.0 314.5,484.0 316.5,483.1 318.5,482.1 320.4,481.1 322.4,482.1 324.3,483.1 326.3,481.1 328.2,480.1 330.2,479.1 332.2,479.1 334.1,479.1 336.1,478.2 338.0,477.2 340.0,471.3 341.9,465.4 343.9,460.6 345.9,459.6 347.8,457.6 349.8,453.7 351.7,445.9 353.7,442.9 355.6,445.9 356.6,451.7 357.6,457.6 359.6,459.6 361.5,457.6 363.5,455.7 365.4,457.6 367.4,459.6 369.3,458.6 371.3,456.6 373.3,457.6 375.2,459.6 377.2,458.6 379.1,455.7 381.1,451.7 383.0,453.7 385.0,455.7 387.0,454.7 388.9,453.7 390.9,452.7 392.8,454.7 394.8,455.7 396.7,457.6 398.7,459.6 400.7,453.7 402.6,452.7 404.6,453.7 406.5,455.7 408.5,457.6 410.4,454.7 412.0,453.7 412.5,454.7 414.6,453.6 416.7,448.3 418.9,446.1 421.0,448.3 423.1,453.6 425.3,455.8 427.4,454.7 429.5,453.6 431.7,450.4 433.8,446.1 435.9,447.2 438.1,448.3 440.2,452.5 442.3,462.2 444.5,466.4 446.6,464.3 448.7,459.0 450.9,454.7 453.0,448.3 455.1,444.0 457.3,446.1 459.4,450.4 461.5,451.5 463.7,452.5 465.8,452.5 467.9,453.6 470.1,450.4 472.2,446.1 474.3,448.3 476.5,452.5 478.6,454.7 480.8,452.5 482.9,450.4 485.0,449.3 487.2,449.3 489.3,450.4 491.4,449.3 493.6,447.2 495.7,445.1 497.8,444.0 500.0,442.9 502.1,440.8 504.2,439.7 506.4,440.8 508.5,438.7 510.6,439.7 512.8,438.7 514.9,437.6 517.0,436.5 519.2,435.5 521.7,435.9" fill="none" stroke="#4a66a6" stroke-width="1.25" stroke-linejoin="round" stroke-dasharray="2.2,1.6"/>
<polyline points="299.9,494.8 300.8,492.8 302.8,488.9 304.8,487.0 306.7,488.0 308.7,488.9 310.6,487.0 312.6,486.0 314.5,485.0 316.5,484.0 318.5,483.1 320.4,482.1 322.4,483.1 324.3,484.0 326.3,483.1 328.2,481.1 330.2,479.1 332.2,481.1 334.1,482.1 336.1,483.1 338.0,485.0 340.0,484.0 341.9,481.1 343.9,477.2 345.9,474.3 347.8,472.3 349.8,470.3 351.7,465.4 353.7,462.5 355.6,464.5 356.6,470.3 357.6,473.3 358.6,469.4 359.6,464.5 361.5,461.5 363.5,462.5 365.4,460.6 367.4,459.6 369.3,458.6 371.3,459.6 373.3,461.5 375.2,463.5 377.2,470.3 379.1,472.3 381.1,469.4 383.0,468.4 385.0,472.3 387.0,475.2 388.9,476.2 390.9,475.2 392.8,473.3 394.8,472.3 396.7,469.4 398.7,467.4 400.7,461.5 402.6,459.6 404.6,460.6 406.5,462.5 408.5,464.5 410.4,465.4 412.0,466.4 412.5,465.4 413.5,459.0 414.6,446.1 415.7,438.7 416.7,435.9 418.9,435.1 421.0,434.4 423.1,433.3 425.3,432.9 426.3,432.3 427.4,436.5 428.5,444.0 429.5,450.4 430.6,452.5 431.7,448.3 432.7,441.9 433.8,437.6 435.9,436.5 438.1,437.6 439.1,440.8 440.2,448.3 441.3,453.6 443.4,454.7 444.5,448.3 445.5,439.7 446.6,436.5 448.7,435.9 450.9,435.9 453.0,436.5 454.1,444.0 455.1,452.5 456.2,465.4 457.3,472.8 458.3,469.6 459.4,459.0 460.5,450.4 461.5,445.1 462.6,444.0 463.7,444.0 464.7,448.3 465.8,461.1 466.9,469.6 467.9,473.9 469.0,467.5 470.1,454.7 472.2,444.0 473.7,441.9 475.4,446.1 476.5,452.5 477.5,463.2 478.6,469.6 479.7,473.9 480.8,476.0 482.9,478.2 485.0,478.2 487.2,478.2 490.4,478.2 494.6,478.2 498.9,476.0 501.0,469.6 502.7,470.7 504.2,475.0 505.3,478.2 509.6,478.6 513.8,478.6 518.1,477.1 520.2,475.0 521.7,475.0" fill="none" stroke="#7767b0" stroke-width="1.25" stroke-linejoin="round"/>
<polyline points="299.9,487.0 300.8,496.8 301.8,498.7 302.8,494.8 304.8,490.9 306.7,488.9 308.7,491.9 310.6,488.9 312.6,487.0 314.5,486.0 316.5,485.0 318.5,486.0 320.4,485.0 322.4,486.0 324.3,487.0 326.3,485.0 328.2,482.1 330.2,481.1 332.2,482.1 334.1,483.1 336.1,484.0 338.0,484.0 340.0,482.1 341.9,481.1 343.9,481.1 345.9,480.5 347.8,480.5 349.8,480.5 351.7,480.5 353.7,480.1 355.6,478.2 357.6,475.2 359.6,477.2 361.5,480.1 363.5,480.1 365.4,479.1 367.4,478.2 369.3,476.2 371.3,474.3 373.3,473.3 375.2,475.2 377.2,478.2 379.1,477.2 381.1,475.2 383.0,474.3 385.0,473.3 387.0,473.3 388.9,475.2 390.9,477.2 392.8,476.2 394.8,475.2 396.7,476.2 398.7,475.2 400.7,474.3 402.6,473.3 404.6,471.3 406.5,468.4 408.5,469.4 410.4,470.3 412.0,470.3 412.5,473.9 414.6,475.0 416.7,476.0 418.9,477.1 421.0,479.2 423.1,478.6 425.3,479.2 427.4,478.6 429.5,478.2 431.7,478.6 433.8,477.7 435.9,477.1 438.1,477.1 440.2,478.2 442.3,479.2 444.5,479.2 446.6,479.2 448.7,479.2 450.9,479.2 453.0,479.2 455.1,478.6 457.3,479.2 459.4,479.2 461.5,478.2 463.7,476.0 465.8,477.1 467.9,478.6 470.1,478.2 472.2,477.1 474.3,478.2 476.5,482.4 478.6,484.1 480.8,480.3 482.9,477.7 485.0,479.2 487.2,478.6 489.3,476.0 491.4,473.9 493.6,473.5 495.7,475.0 497.8,477.1 500.0,478.6 502.1,477.1 504.2,478.2 506.4,478.6 508.5,478.6 510.6,477.7 512.8,479.2 514.9,479.2 517.0,478.2 519.2,477.7 521.7,477.1" fill="none" stroke="#d83c5a" stroke-width="1.25" stroke-linejoin="round"/>
<polyline points="299.9,490.9 300.8,494.8 301.8,493.8 302.8,494.8 303.8,495.8 304.8,493.8 305.7,494.8 306.7,496.8 307.7,495.8 308.7,493.8 310.6,491.9 312.6,490.9 314.5,489.9 316.5,488.9 318.5,488.0 320.4,488.9 322.4,489.9 324.3,490.9 326.3,491.9 328.2,492.8 330.2,492.8 332.2,491.9 334.1,492.8 336.1,493.8 338.0,493.8 340.0,493.8 341.9,492.8 343.9,491.9 345.9,489.9 347.8,488.0 349.8,486.0 351.7,484.0 353.7,482.1 355.6,480.1 357.6,479.1 360.5,479.1 364.4,479.5 368.4,479.5 372.3,479.5 376.2,479.5 380.1,479.5 384.0,479.5 387.9,480.1 391.8,480.1 395.8,479.5 399.7,480.1 403.6,480.5 407.5,480.5 411.4,480.5 412.5,481.4 414.6,482.8 416.7,484.6 418.9,485.6 421.0,486.7 423.1,486.7 425.3,484.6 427.4,481.4 429.5,480.3 431.7,480.3 433.8,482.0 435.9,484.6 438.1,485.6 440.2,483.5 442.3,480.3 444.5,479.9 446.6,479.9 448.7,479.9 450.9,479.9 453.0,479.9 455.1,480.3 457.3,482.4 459.4,483.5 461.5,481.4 463.7,479.9 465.8,479.9 467.9,479.9 470.1,479.9 472.2,479.2 474.3,479.2 476.5,479.2 478.6,479.2 480.8,479.9 482.9,480.3 485.0,481.4 487.2,480.3 489.3,479.9 491.4,479.9 493.6,480.3 495.7,480.3 497.8,479.9 500.0,479.9 502.1,479.9 504.2,479.9 506.4,479.9 508.5,479.2 510.6,479.2 512.8,479.9 514.9,479.9 517.0,479.2 519.2,479.2 521.7,478.8" fill="none" stroke="#2a9c62" stroke-width="1.25" stroke-linejoin="round"/>
</g>
<text x="408.3" y="374.8" font-size="10.7" text-anchor="middle">seekavoid_arena_01 to stairway_to_melon_01</text>
<text x="408.3" y="528.5" font-size="8.2" text-anchor="middle" textLength="34" lengthAdjust="spacingAndGlyphs">Timestep</text>
<text x="520.9" y="525.5" font-size="4.8" text-anchor="end">1e7</text>
<text transform="translate(281.2,444.9) rotate(-90)" font-size="8.2" text-anchor="middle" textLength="20.8" lengthAdjust="spacingAndGlyphs">Score</text>
<line x1="563.3" y1="512.25" x2="790.4" y2="512.25" stroke="#dedede" stroke-width="0.9"/>
<text transform="translate(559.1,513.85) scale(0.88,1)" font-size="6.0" text-anchor="end">0</text>
<line x1="563.3" y1="478.55" x2="790.4" y2="478.55" stroke="#dedede" stroke-width="0.9"/>
<text transform="translate(559.1,480.15) scale(0.88,1)" font-size="6.0" text-anchor="end">5</text>
<line x1="563.3" y1="444.85" x2="790.4" y2="444.85" stroke="#dedede" stroke-width="0.9"/>
<text transform="translate(559.1,446.45) scale(0.88,1)" font-size="6.0" text-anchor="end">10</text>
<line x1="563.3" y1="411.15" x2="790.4" y2="411.15" stroke="#dedede" stroke-width="0.9"/>
<text transform="translate(559.1,412.75) scale(0.88,1)" font-size="6.0" text-anchor="end">15</text>
<line x1="563.3" y1="377.45" x2="790.4" y2="377.45" stroke="#dedede" stroke-width="0.9"/>
<text transform="translate(559.1,379.05) scale(0.88,1)" font-size="6.0" text-anchor="end">20</text>
<line x1="563.30" y1="377.4" x2="563.30" y2="512.2" stroke="#dedede" stroke-width="0.9"/>
<text transform="translate(563.30,519.2) scale(0.88,1)" font-size="6.0" text-anchor="middle">0</text>
<line x1="620.07" y1="377.4" x2="620.07" y2="512.2" stroke="#dedede" stroke-width="0.9"/>
<text transform="translate(620.07,519.2) scale(0.88,1)" font-size="6.0" text-anchor="middle">1</text>
<line x1="676.85" y1="377.4" x2="676.85" y2="512.2" stroke="#dedede" stroke-width="0.9"/>
<text transform="translate(676.85,519.2) scale(0.88,1)" font-size="6.0" text-anchor="middle">2</text>
<line x1="733.62" y1="377.4" x2="733.62" y2="512.2" stroke="#dedede" stroke-width="0.9"/>
<text transform="translate(733.62,519.2) scale(0.88,1)" font-size="6.0" text-anchor="middle">3</text>
<line x1="790.40" y1="377.4" x2="790.40" y2="512.2" stroke="#dedede" stroke-width="0.9"/>
<text transform="translate(790.40,519.2) scale(0.88,1)" font-size="6.0" text-anchor="middle">4</text>
<rect x="563.3" y="377.4" width="227.1" height="134.8" fill="none" stroke="#dedede" stroke-width="1"/>
<clipPath id="clip22"><rect x="563.3" y="377.4" width="227.1" height="134.8"/></clipPath>
<g clip-path="url(#clip22)">
<polygon points="568.5,505.0 573.8,501.8 578.1,493.2 582.4,478.3 586.6,467.6 590.9,459.1 595.2,452.7 599.4,448.4 603.7,446.2 608.0,445.2 612.2,448.4 616.5,445.2 620.8,444.1 625.1,443.0 629.3,445.2 633.6,448.4 637.9,447.3 642.1,448.4 646.4,447.3 650.7,448.4 655.0,448.4 659.2,449.4 663.5,446.2 667.8,443.0 672.0,446.2 676.3,452.7 679.5,450.5 681.6,449.1 685.9,446.9 690.1,440.5 694.4,434.1 698.7,432.0 703.0,433.0 707.2,438.4 711.5,436.2 715.8,430.9 720.0,436.2 724.3,440.5 728.6,432.0 732.9,428.8 737.1,427.7 741.4,430.9 745.7,438.4 749.9,438.4 754.2,434.1 758.5,433.0 762.7,434.1 767.0,435.2 771.3,438.4 775.6,436.2 779.8,434.1 784.1,433.0 789.9,428.8 789.9,449.1 784.1,455.5 779.8,456.5 775.6,458.7 771.3,460.8 767.0,457.6 762.7,455.5 758.5,453.3 754.2,455.5 749.9,459.7 745.7,460.8 743.5,455.5 739.3,449.1 735.0,449.1 730.7,449.1 726.4,459.7 723.2,470.4 720.0,457.6 715.8,449.1 711.5,457.6 707.2,459.7 703.0,453.3 698.7,451.2 694.4,453.3 690.1,461.9 685.9,469.3 681.6,470.4 679.5,469.7 676.3,467.6 672.0,463.3 667.8,460.1 663.5,464.4 659.2,467.6 655.0,465.5 650.7,464.4 646.4,463.3 642.1,464.4 637.9,465.5 633.6,463.3 629.3,460.1 625.1,459.1 620.8,460.1 616.5,461.2 612.2,463.3 608.0,462.3 603.7,463.3 599.4,467.6 595.2,471.9 590.9,476.1 586.6,482.5 582.4,489.0 578.1,501.8 573.8,507.1 568.5,507.7" fill="#4a68b4" fill-opacity="0.2"/>
<polygon points="568.5,505.0 573.8,502.8 578.1,497.5 582.4,486.8 586.6,476.1 590.9,463.3 595.2,450.5 599.4,442.0 603.7,437.7 608.0,432.4 612.2,431.3 616.5,429.2 620.8,429.2 625.1,431.3 629.3,429.2 633.6,427.0 637.9,423.8 642.1,424.9 646.4,418.5 650.7,416.4 655.0,417.4 659.2,415.3 663.5,414.2 667.8,412.1 672.0,413.1 676.3,416.4 679.5,416.4 681.6,412.8 685.9,406.4 690.1,404.2 694.4,406.4 698.7,406.4 703.0,406.4 707.2,408.5 711.5,414.9 715.8,417.0 720.0,412.8 724.3,409.6 728.6,406.4 732.9,404.2 737.1,402.1 741.4,401.0 745.7,397.8 749.9,399.9 754.2,403.1 758.5,406.4 762.7,406.4 767.0,402.1 771.3,395.7 775.6,393.5 779.8,392.5 785.2,393.5 789.9,393.5 789.9,407.4 785.2,408.5 779.8,407.4 775.6,409.6 771.3,412.8 767.0,420.2 762.7,422.4 758.5,421.3 754.2,419.2 749.9,417.0 745.7,414.9 741.4,417.0 737.1,419.2 732.9,420.2 728.6,423.4 724.3,427.7 720.0,429.8 715.8,434.1 711.5,432.0 707.2,425.6 703.0,421.3 698.7,422.4 694.4,422.4 690.1,421.3 685.9,423.4 681.6,432.0 679.5,429.2 676.3,429.2 672.0,424.9 667.8,422.8 663.5,426.0 659.2,428.1 655.0,430.2 650.7,429.2 646.4,431.3 642.1,437.7 637.9,436.6 633.6,439.8 629.3,442.0 625.1,444.1 620.8,442.0 616.5,443.0 612.2,445.2 608.0,446.2 603.7,452.7 599.4,459.1 595.2,469.7 590.9,480.4 586.6,489.0 582.4,497.5 578.1,503.9 573.8,507.1 568.5,507.7" fill="#34aa66" fill-opacity="0.2"/>
<polygon points="568.5,505.0 573.8,501.8 578.1,489.0 582.4,469.7 586.6,452.7 590.9,439.8 595.2,435.6 599.4,434.5 603.7,437.7 608.0,437.7 612.2,431.3 616.5,424.9 620.8,422.8 625.1,427.0 629.3,424.9 633.6,422.8 637.9,420.6 642.1,420.6 646.4,418.5 650.7,416.4 655.0,416.4 659.2,414.2 663.5,412.1 667.8,412.1 672.0,412.1 676.3,416.4 679.5,416.4 681.6,412.8 685.9,410.6 690.1,408.5 694.4,408.5 698.7,412.8 703.0,411.7 707.2,410.6 711.5,406.4 715.8,405.3 720.0,406.4 724.3,406.4 727.5,417.0 730.7,414.9 736.1,404.2 740.3,402.1 744.6,401.0 748.9,404.2 753.1,402.1 757.4,397.8 761.7,393.5 764.9,391.4 768.1,397.8 772.4,399.9 778.8,397.8 785.2,396.7 789.9,395.7 789.9,414.9 785.2,416.0 778.8,417.0 772.4,419.2 768.1,417.0 763.8,413.8 759.5,416.0 755.3,419.2 751.0,423.4 746.7,420.2 742.5,419.2 738.2,421.3 733.9,425.6 729.7,436.2 727.1,438.4 724.3,427.7 720.0,423.4 715.8,424.5 711.5,425.6 707.2,427.7 703.0,432.0 698.7,434.1 694.4,429.8 690.1,427.7 685.9,432.0 681.6,434.1 679.5,433.4 676.3,433.4 672.0,429.2 667.8,429.2 663.5,427.0 659.2,429.2 655.0,431.3 650.7,433.4 646.4,436.6 642.1,439.8 637.9,439.8 633.6,444.1 629.3,448.4 625.1,449.4 620.8,446.2 616.5,444.1 612.2,450.5 608.0,456.9 603.7,456.9 599.4,454.8 595.2,456.9 590.9,461.2 586.6,474.0 582.4,489.0 578.1,501.8 573.8,507.1 568.5,507.7" fill="#e6385c" fill-opacity="0.2"/>
<polygon points="568.5,505.0 573.8,501.8 578.1,491.1 582.4,471.9 586.6,461.2 590.9,454.8 595.2,452.7 599.4,450.5 603.7,451.6 608.0,450.5 612.2,451.6 616.5,449.4 620.8,446.2 625.1,439.8 629.3,440.9 633.6,444.1 637.9,439.8 642.1,438.8 646.4,437.7 650.7,435.6 655.0,437.7 659.2,433.4 663.5,429.2 667.8,427.0 672.0,429.2 676.3,437.7 679.5,435.6 681.6,436.2 685.9,436.2 690.1,429.8 694.4,423.4 698.7,421.3 703.0,422.4 707.2,425.6 711.5,421.3 715.8,419.2 720.0,417.0 724.3,416.0 728.6,414.9 732.9,417.0 737.1,418.1 741.4,419.2 745.7,420.2 749.9,414.9 754.2,410.6 758.5,411.7 762.7,409.6 767.0,407.4 771.3,406.4 775.6,405.3 779.8,406.4 784.1,410.6 787.3,412.8 789.9,406.4 789.9,427.7 787.3,434.1 784.1,429.8 779.8,424.5 775.6,423.4 771.3,424.5 767.0,425.6 762.7,427.7 758.5,428.8 754.2,429.8 749.9,435.2 745.7,440.5 741.4,439.4 737.1,438.4 732.9,437.3 728.6,436.2 724.3,436.2 720.0,436.2 715.8,438.4 711.5,442.7 707.2,445.9 703.0,441.6 698.7,440.5 694.4,446.9 690.1,453.3 685.9,458.7 681.6,457.6 679.5,459.1 676.3,463.3 672.0,456.9 667.8,454.8 663.5,456.9 659.2,459.1 655.0,461.2 650.7,459.1 646.4,462.3 642.1,463.3 637.9,465.5 633.6,467.6 629.3,463.3 625.1,461.2 620.8,467.6 616.5,469.7 612.2,471.9 608.0,470.8 603.7,471.9 599.4,470.8 595.2,471.9 590.9,474.0 586.6,478.3 582.4,484.7 578.1,501.8 573.8,507.1 568.5,507.7" fill="#8070b8" fill-opacity="0.2"/>
<polyline points="568.5,506.5 570.6,506.5 572.7,505.0 574.9,501.8 577.0,497.5 579.1,493.2 581.3,486.8 583.4,481.5 585.6,476.1 587.7,471.9 589.8,468.7 592.0,465.5 594.1,463.3 596.2,460.1 598.4,458.0 600.5,456.9 602.6,454.8 604.8,453.7 606.9,452.7 609.0,453.7 611.2,454.8 613.3,456.9 615.4,455.9 617.6,452.7 619.7,451.6 621.9,453.7 624.0,452.7 626.1,450.5 628.3,451.6 630.4,453.7 632.5,455.9 634.7,456.9 636.8,455.9 638.9,454.8 641.1,455.9 643.2,456.9 645.3,455.9 647.5,454.8 649.6,455.9 651.7,456.9 653.9,455.9 656.0,458.0 658.2,459.1 660.3,456.9 662.4,454.8 664.6,452.7 666.7,450.5 668.8,452.7 671.0,455.9 673.1,456.9 675.2,458.0 677.4,461.2 679.5,460.1 681.6,460.8 683.7,458.7 685.9,456.5 688.0,452.3 690.1,449.1 692.3,445.9 694.4,442.7 696.6,442.2 698.7,441.6 700.8,441.6 703.0,442.7 705.1,445.9 707.2,449.1 709.4,451.2 711.5,446.9 713.6,441.6 715.8,439.4 717.9,442.7 720.0,449.1 722.2,455.5 723.2,457.6 724.3,453.3 726.4,446.9 728.6,441.6 730.7,439.4 732.9,438.4 735.0,438.4 737.1,438.4 739.3,439.4 741.4,441.6 743.5,446.9 745.7,451.2 747.8,450.1 749.9,448.0 752.1,445.9 754.2,444.8 756.3,442.7 758.5,443.7 760.6,445.9 762.7,445.9 764.9,444.8 767.0,445.9 769.2,450.1 771.3,451.2 773.4,448.0 775.6,445.9 777.7,444.8 779.8,445.9 782.0,446.9 784.1,444.8 786.2,441.6 788.4,439.4 789.9,438.4" fill="none" stroke="#4a66a6" stroke-width="1.25" stroke-linejoin="round" stroke-dasharray="2.2,1.6"/>
<polyline points="568.5,506.5 570.6,506.5 572.7,505.6 574.9,503.9 577.0,500.7 579.1,498.6 581.3,495.4 583.4,492.2 585.6,486.8 587.7,481.5 589.8,476.1 592.0,470.8 594.1,465.5 596.2,460.1 598.4,454.8 600.5,450.5 602.6,446.2 604.8,444.1 606.9,440.9 609.0,438.8 611.2,439.8 613.3,437.7 615.4,436.6 617.6,435.6 619.7,434.5 621.9,435.6 624.0,436.6 626.1,437.7 628.3,436.6 630.4,434.5 632.5,433.4 634.7,432.4 636.8,429.2 638.9,430.2 641.1,432.4 643.2,431.3 645.3,429.2 647.5,423.8 649.6,421.7 651.7,422.8 653.9,423.8 656.0,422.8 658.2,421.7 660.3,420.6 662.4,419.6 664.6,418.5 666.7,419.6 668.8,416.4 671.0,417.4 673.1,419.6 675.2,421.7 677.4,422.8 679.5,421.7 681.6,423.4 683.7,422.4 685.9,414.9 688.0,410.6 690.1,412.8 692.3,416.0 694.4,414.9 696.6,413.8 698.7,414.9 700.8,412.8 703.0,413.8 705.1,417.0 707.2,417.0 709.4,419.2 711.5,423.4 713.6,427.7 715.8,426.6 717.9,424.5 720.0,422.4 722.2,422.4 724.3,420.2 726.4,417.0 728.6,414.9 730.7,413.8 732.9,411.7 735.0,410.6 737.1,411.7 739.3,412.8 741.4,410.6 743.5,408.5 745.7,407.4 747.8,408.5 749.9,409.6 752.1,410.6 754.2,411.7 756.3,412.8 758.5,413.8 760.6,414.9 762.7,414.9 764.9,414.9 767.0,412.8 769.2,408.5 771.3,404.2 773.4,403.1 775.6,401.0 777.7,398.9 779.8,399.9 782.0,401.0 784.1,402.1 786.2,401.0 788.4,399.9 789.9,400.4" fill="none" stroke="#2a9c62" stroke-width="1.25" stroke-linejoin="round"/>
<polyline points="568.5,506.5 570.6,506.5 572.7,505.6 574.9,502.8 577.0,496.4 579.1,489.0 581.3,480.4 583.4,471.9 585.6,463.3 587.7,456.9 589.8,451.6 592.0,447.3 594.1,446.2 596.2,446.2 598.4,445.2 600.5,446.2 602.6,448.4 604.8,447.3 606.9,446.2 609.0,447.3 611.2,445.2 613.3,439.8 615.4,436.6 617.6,434.5 619.7,435.6 621.9,436.6 624.0,439.8 626.1,442.0 628.3,439.8 630.4,436.6 632.5,434.5 634.7,433.4 636.8,431.3 638.9,430.2 641.1,431.3 643.2,430.2 645.3,428.1 647.5,427.0 649.6,426.0 651.7,424.9 653.9,423.8 656.0,424.9 658.2,423.8 660.3,421.7 662.4,420.6 664.6,419.6 666.7,420.6 668.8,421.7 671.0,419.6 673.1,421.7 675.2,424.9 677.4,427.0 679.5,426.0 681.6,423.4 683.7,422.4 685.9,420.2 688.0,419.2 690.1,418.1 692.3,417.0 694.4,419.2 696.6,422.4 698.7,424.5 700.8,423.4 703.0,421.3 705.1,420.2 707.2,419.2 709.4,417.0 711.5,416.0 713.6,414.9 715.8,414.9 717.9,416.0 720.0,414.9 722.2,413.8 724.3,417.0 725.8,423.4 727.1,429.8 728.6,432.0 730.1,427.7 731.8,419.2 733.9,416.0 736.1,412.8 738.2,411.7 740.3,411.7 742.5,410.6 744.6,409.6 746.7,410.6 748.9,414.9 751.0,416.0 753.1,413.8 755.3,408.5 757.4,406.4 759.5,405.3 761.7,404.2 763.8,403.1 766.0,402.1 768.1,406.4 770.2,411.7 772.4,410.6 774.5,409.6 776.6,408.5 778.8,408.5 780.9,408.5 783.0,407.4 785.2,406.4 787.3,405.3 789.4,405.3" fill="none" stroke="#d83c5a" stroke-width="1.25" stroke-linejoin="round"/>
<polyline points="568.5,506.5 570.6,506.5 572.7,505.0 574.9,502.8 577.0,497.5 579.1,490.0 581.3,482.5 583.4,477.2 585.6,472.9 587.7,468.7 589.8,465.5 592.0,463.3 594.1,462.3 596.2,463.3 598.4,462.3 600.5,460.1 602.6,461.2 604.8,463.3 606.9,462.3 609.0,461.2 611.2,462.3 613.3,463.3 615.4,462.3 617.6,460.1 619.7,458.0 621.9,455.9 624.0,453.7 626.1,450.5 628.3,451.6 630.4,453.7 632.5,455.9 634.7,455.9 636.8,452.7 638.9,450.5 641.1,451.6 643.2,449.4 645.3,448.4 647.5,449.4 649.6,447.3 651.7,448.4 653.9,449.4 656.0,447.3 658.2,446.2 660.3,445.2 662.4,445.2 664.6,442.0 666.7,443.0 668.8,444.1 671.0,443.0 673.1,444.1 675.2,450.5 677.4,452.7 679.5,446.2 681.6,446.9 683.7,448.0 685.9,446.9 688.0,444.8 690.1,440.5 692.3,436.2 694.4,433.0 696.6,430.9 698.7,429.8 700.8,429.8 703.0,430.9 705.1,433.0 707.2,435.2 709.4,434.1 711.5,430.9 713.6,428.8 715.8,427.7 717.9,426.6 720.0,425.6 722.2,424.5 724.3,424.5 726.4,423.4 728.6,424.5 730.7,425.6 732.9,426.6 735.0,426.6 737.1,427.7 739.3,428.8 741.4,428.8 743.5,429.8 745.7,430.9 747.8,428.8 749.9,424.5 752.1,421.3 754.2,419.2 756.3,418.1 758.5,419.2 760.6,419.2 762.7,418.1 764.9,417.0 767.0,416.0 769.2,412.8 771.3,413.8 773.4,414.9 775.6,412.8 777.7,413.8 779.8,414.9 782.0,416.0 784.1,420.2 786.2,423.4 788.4,419.2 789.9,414.9" fill="none" stroke="#7767b0" stroke-width="1.25" stroke-linejoin="round"/>
</g>
<text x="676.8" y="374.8" font-size="10.7" text-anchor="middle">seekavoid_arena_01 from scratch</text>
<text x="676.8" y="528.5" font-size="8.2" text-anchor="middle" textLength="34" lengthAdjust="spacingAndGlyphs">Timestep</text>
<text x="789.2" y="525.5" font-size="4.8" text-anchor="end">1e7</text>
<text transform="translate(550.0,444.9) rotate(-90)" font-size="8.2" text-anchor="middle" textLength="20.8" lengthAdjust="spacingAndGlyphs">Score</text>
<line x1="32.1" y1="50.9" x2="45.6" y2="50.9" stroke="#4a66a6" stroke-width="1.2" stroke-dasharray="2.7,2.5"/>
<text x="50.9" y="53.4" font-size="7.0">0.0</text>
<line x1="32.1" y1="60.8" x2="45.6" y2="60.8" stroke="#2a9c62" stroke-width="1.2"/>
<text x="50.9" y="63.3" font-size="7.0">0.05</text>
<line x1="32.1" y1="70.7" x2="45.6" y2="70.7" stroke="#d83c5a" stroke-width="1.2"/>
<text x="50.9" y="73.2" font-size="7.0">0.1</text>
<line x1="32.1" y1="80.6" x2="45.6" y2="80.6" stroke="#7767b0" stroke-width="1.2"/>
<text x="50.9" y="83.1" font-size="7.0">0.5</text>
</svg></body></html>
